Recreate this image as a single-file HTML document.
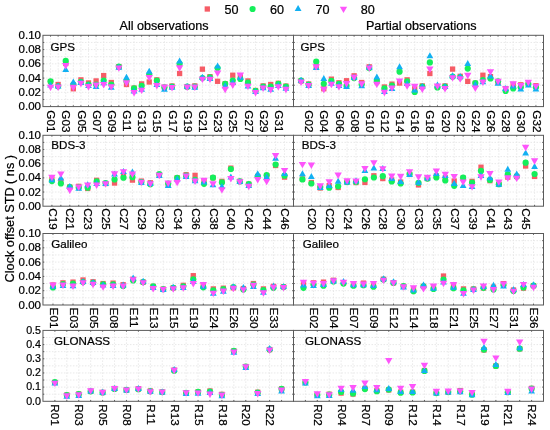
<!DOCTYPE html><html><head><meta charset="utf-8"><title>Clock offset STD</title>
<style>html,body{margin:0;padding:0;background:#fff;width:550px;height:430px;overflow:hidden}svg{display:block}text{font-family:'Liberation Sans', Arial, Helvetica, sans-serif;fill:#000;stroke:#000;stroke-width:0.22px}</style></head><body>
<svg width="550" height="430" viewBox="0 0 550 430">
<rect width="550" height="430" fill="#fff"/>
<path d="M50.54 35.30V106.60M58.13 35.30V106.60M65.73 35.30V106.60M73.32 35.30V106.60M80.91 35.30V106.60M88.50 35.30V106.60M96.10 35.30V106.60M103.69 35.30V106.60M111.28 35.30V106.60M118.87 35.30V106.60M126.47 35.30V106.60M134.06 35.30V106.60M141.65 35.30V106.60M149.24 35.30V106.60M156.84 35.30V106.60M164.43 35.30V106.60M172.02 35.30V106.60M179.61 35.30V106.60M187.21 35.30V106.60M194.80 35.30V106.60M202.39 35.30V106.60M209.98 35.30V106.60M217.58 35.30V106.60M225.17 35.30V106.60M232.76 35.30V106.60M240.35 35.30V106.60M247.95 35.30V106.60M255.54 35.30V106.60M263.13 35.30V106.60M270.72 35.30V106.60M278.32 35.30V106.60M285.91 35.30V106.60M42.95 42.43H293.50M42.95 49.56H293.50M42.95 56.69H293.50M42.95 63.82H293.50M42.95 70.95H293.50M42.95 78.08H293.50M42.95 85.21H293.50M42.95 92.34H293.50M42.95 99.47H293.50" stroke="#e6e6e6" stroke-width="0.9" stroke-dasharray="1.5 1.5" fill="none"/>
<path d="M50.54 35.30v1.3M50.54 106.60v-1.3M58.13 35.30v1.3M58.13 106.60v-1.3M65.73 35.30v1.3M65.73 106.60v-1.3M73.32 35.30v1.3M73.32 106.60v-1.3M80.91 35.30v1.3M80.91 106.60v-1.3M88.50 35.30v1.3M88.50 106.60v-1.3M96.10 35.30v1.3M96.10 106.60v-1.3M103.69 35.30v1.3M103.69 106.60v-1.3M111.28 35.30v1.3M111.28 106.60v-1.3M118.87 35.30v1.3M118.87 106.60v-1.3M126.47 35.30v1.3M126.47 106.60v-1.3M134.06 35.30v1.3M134.06 106.60v-1.3M141.65 35.30v1.3M141.65 106.60v-1.3M149.24 35.30v1.3M149.24 106.60v-1.3M156.84 35.30v1.3M156.84 106.60v-1.3M164.43 35.30v1.3M164.43 106.60v-1.3M172.02 35.30v1.3M172.02 106.60v-1.3M179.61 35.30v1.3M179.61 106.60v-1.3M187.21 35.30v1.3M187.21 106.60v-1.3M194.80 35.30v1.3M194.80 106.60v-1.3M202.39 35.30v1.3M202.39 106.60v-1.3M209.98 35.30v1.3M209.98 106.60v-1.3M217.58 35.30v1.3M217.58 106.60v-1.3M225.17 35.30v1.3M225.17 106.60v-1.3M232.76 35.30v1.3M232.76 106.60v-1.3M240.35 35.30v1.3M240.35 106.60v-1.3M247.95 35.30v1.3M247.95 106.60v-1.3M255.54 35.30v1.3M255.54 106.60v-1.3M263.13 35.30v1.3M263.13 106.60v-1.3M270.72 35.30v1.3M270.72 106.60v-1.3M278.32 35.30v1.3M278.32 106.60v-1.3M285.91 35.30v1.3M285.91 106.60v-1.3M42.95 42.43h1.3M293.50 42.43h-1.3M42.95 49.56h1.3M293.50 49.56h-1.3M42.95 56.69h1.3M293.50 56.69h-1.3M42.95 63.82h1.3M293.50 63.82h-1.3M42.95 70.95h1.3M293.50 70.95h-1.3M42.95 78.08h1.3M293.50 78.08h-1.3M42.95 85.21h1.3M293.50 85.21h-1.3M42.95 92.34h1.3M293.50 92.34h-1.3M42.95 99.47h1.3M293.50 99.47h-1.3" stroke="#5a5a5a" stroke-width="1" fill="none"/>
<rect x="42.95" y="35.30" width="250.55" height="71.30" fill="none" stroke="#5a5a5a" stroke-width="1"/>
<text x="50.45" y="50.60" font-size="11.6">GPS</text>
<text transform="translate(47.14 110.30) rotate(90)" font-size="11.7">G01</text>
<text transform="translate(62.33 110.30) rotate(90)" font-size="11.7">G03</text>
<text transform="translate(77.51 110.30) rotate(90)" font-size="11.7">G05</text>
<text transform="translate(92.70 110.30) rotate(90)" font-size="11.7">G07</text>
<text transform="translate(107.88 110.30) rotate(90)" font-size="11.7">G09</text>
<text transform="translate(123.07 110.30) rotate(90)" font-size="11.7">G11</text>
<text transform="translate(138.25 110.30) rotate(90)" font-size="11.7">G13</text>
<text transform="translate(153.44 110.30) rotate(90)" font-size="11.7">G15</text>
<text transform="translate(168.62 110.30) rotate(90)" font-size="11.7">G17</text>
<text transform="translate(183.81 110.30) rotate(90)" font-size="11.7">G19</text>
<text transform="translate(198.99 110.30) rotate(90)" font-size="11.7">G21</text>
<text transform="translate(214.18 110.30) rotate(90)" font-size="11.7">G23</text>
<text transform="translate(229.36 110.30) rotate(90)" font-size="11.7">G25</text>
<text transform="translate(244.55 110.30) rotate(90)" font-size="11.7">G27</text>
<text transform="translate(259.73 110.30) rotate(90)" font-size="11.7">G29</text>
<text transform="translate(274.92 110.30) rotate(90)" font-size="11.7">G31</text>
<text x="41" y="110.20" font-size="11.5" text-anchor="end">0.00</text>
<text x="41" y="95.94" font-size="11.5" text-anchor="end">0.02</text>
<text x="41" y="81.68" font-size="11.5" text-anchor="end">0.04</text>
<text x="41" y="67.42" font-size="11.5" text-anchor="end">0.06</text>
<text x="41" y="53.16" font-size="11.5" text-anchor="end">0.08</text>
<text x="41" y="38.90" font-size="11.5" text-anchor="end">0.10</text>
<rect x="47.89" y="78.99" width="5.30" height="5.30" fill="#f65c66"/>
<rect x="55.48" y="81.85" width="5.30" height="5.30" fill="#f65c66"/>
<rect x="63.08" y="60.81" width="5.30" height="5.30" fill="#f65c66"/>
<rect x="70.67" y="86.12" width="5.30" height="5.30" fill="#f65c66"/>
<rect x="78.26" y="77.21" width="5.30" height="5.30" fill="#f65c66"/>
<rect x="85.85" y="80.28" width="5.30" height="5.30" fill="#f65c66"/>
<rect x="93.45" y="78.28" width="5.30" height="5.30" fill="#f65c66"/>
<rect x="101.04" y="72.93" width="5.30" height="5.30" fill="#f65c66"/>
<rect x="108.63" y="79.85" width="5.30" height="5.30" fill="#f65c66"/>
<rect x="116.22" y="64.02" width="5.30" height="5.30" fill="#f65c66"/>
<rect x="123.82" y="81.85" width="5.30" height="5.30" fill="#f65c66"/>
<rect x="131.41" y="85.41" width="5.30" height="5.30" fill="#f65c66"/>
<rect x="139.00" y="81.28" width="5.30" height="5.30" fill="#f65c66"/>
<rect x="146.59" y="79.35" width="5.30" height="5.30" fill="#f65c66"/>
<rect x="154.19" y="77.21" width="5.30" height="5.30" fill="#f65c66"/>
<rect x="161.78" y="84.70" width="5.30" height="5.30" fill="#f65c66"/>
<rect x="169.37" y="83.34" width="5.30" height="5.30" fill="#f65c66"/>
<rect x="176.96" y="70.87" width="5.30" height="5.30" fill="#f65c66"/>
<rect x="184.56" y="83.99" width="5.30" height="5.30" fill="#f65c66"/>
<rect x="192.15" y="83.27" width="5.30" height="5.30" fill="#f65c66"/>
<rect x="199.74" y="66.52" width="5.30" height="5.30" fill="#f65c66"/>
<rect x="207.33" y="74.00" width="5.30" height="5.30" fill="#f65c66"/>
<rect x="214.93" y="78.64" width="5.30" height="5.30" fill="#f65c66"/>
<rect x="222.52" y="81.13" width="5.30" height="5.30" fill="#f65c66"/>
<rect x="230.11" y="72.58" width="5.30" height="5.30" fill="#f65c66"/>
<rect x="237.70" y="73.29" width="5.30" height="5.30" fill="#f65c66"/>
<rect x="245.30" y="78.28" width="5.30" height="5.30" fill="#f65c66"/>
<rect x="252.89" y="87.84" width="5.30" height="5.30" fill="#f65c66"/>
<rect x="260.48" y="83.27" width="5.30" height="5.30" fill="#f65c66"/>
<rect x="268.07" y="81.85" width="5.30" height="5.30" fill="#f65c66"/>
<rect x="275.67" y="80.63" width="5.30" height="5.30" fill="#f65c66"/>
<rect x="283.26" y="83.42" width="5.30" height="5.30" fill="#f65c66"/>
<circle cx="50.54" cy="81.29" r="3.1" fill="#14ef5a"/>
<circle cx="58.13" cy="86.28" r="3.1" fill="#14ef5a"/>
<circle cx="65.73" cy="60.97" r="3.1" fill="#14ef5a"/>
<circle cx="73.32" cy="84.50" r="3.1" fill="#14ef5a"/>
<circle cx="80.91" cy="81.79" r="3.1" fill="#14ef5a"/>
<circle cx="88.50" cy="84.50" r="3.1" fill="#14ef5a"/>
<circle cx="96.10" cy="84.50" r="3.1" fill="#14ef5a"/>
<circle cx="103.69" cy="80.50" r="3.1" fill="#14ef5a"/>
<circle cx="111.28" cy="84.50" r="3.1" fill="#14ef5a"/>
<circle cx="118.87" cy="66.67" r="3.1" fill="#14ef5a"/>
<circle cx="126.47" cy="80.93" r="3.1" fill="#14ef5a"/>
<circle cx="134.06" cy="88.42" r="3.1" fill="#14ef5a"/>
<circle cx="141.65" cy="85.78" r="3.1" fill="#14ef5a"/>
<circle cx="149.24" cy="74.52" r="3.1" fill="#14ef5a"/>
<circle cx="156.84" cy="80.50" r="3.1" fill="#14ef5a"/>
<circle cx="164.43" cy="87.35" r="3.1" fill="#14ef5a"/>
<circle cx="172.02" cy="86.64" r="3.1" fill="#14ef5a"/>
<circle cx="179.61" cy="63.82" r="3.1" fill="#14ef5a"/>
<circle cx="187.21" cy="86.64" r="3.1" fill="#14ef5a"/>
<circle cx="194.80" cy="86.64" r="3.1" fill="#14ef5a"/>
<circle cx="202.39" cy="78.08" r="3.1" fill="#14ef5a"/>
<circle cx="209.98" cy="77.37" r="3.1" fill="#14ef5a"/>
<circle cx="217.58" cy="68.10" r="3.1" fill="#14ef5a"/>
<circle cx="225.17" cy="83.78" r="3.1" fill="#14ef5a"/>
<circle cx="232.76" cy="80.50" r="3.1" fill="#14ef5a"/>
<circle cx="240.35" cy="79.01" r="3.1" fill="#14ef5a"/>
<circle cx="247.95" cy="82.71" r="3.1" fill="#14ef5a"/>
<circle cx="255.54" cy="90.91" r="3.1" fill="#14ef5a"/>
<circle cx="263.13" cy="86.64" r="3.1" fill="#14ef5a"/>
<circle cx="270.72" cy="86.64" r="3.1" fill="#14ef5a"/>
<circle cx="278.32" cy="83.78" r="3.1" fill="#14ef5a"/>
<circle cx="285.91" cy="86.64" r="3.1" fill="#14ef5a"/>
<path d="M50.54 81.50L53.94 87.50L47.14 87.50Z" fill="#12b0f2"/>
<path d="M58.13 82.50L61.53 88.50L54.73 88.50Z" fill="#12b0f2"/>
<path d="M65.73 66.02L69.13 72.02L62.33 72.02Z" fill="#12b0f2"/>
<path d="M73.32 78.50L76.72 84.50L69.92 84.50Z" fill="#12b0f2"/>
<path d="M80.91 79.00L84.31 85.00L77.51 85.00Z" fill="#12b0f2"/>
<path d="M88.50 82.00L91.90 88.00L85.10 88.00Z" fill="#12b0f2"/>
<path d="M96.10 82.92L99.50 88.92L92.70 88.92Z" fill="#12b0f2"/>
<path d="M103.69 79.36L107.09 85.36L100.29 85.36Z" fill="#12b0f2"/>
<path d="M111.28 83.64L114.68 89.64L107.88 89.64Z" fill="#12b0f2"/>
<path d="M118.87 63.67L122.27 69.67L115.47 69.67Z" fill="#12b0f2"/>
<path d="M126.47 73.65L129.87 79.65L123.07 79.65Z" fill="#12b0f2"/>
<path d="M134.06 87.49L137.46 93.49L130.66 93.49Z" fill="#12b0f2"/>
<path d="M141.65 85.77L145.05 91.77L138.25 91.77Z" fill="#12b0f2"/>
<path d="M149.24 67.74L152.64 73.74L145.84 73.74Z" fill="#12b0f2"/>
<path d="M156.84 81.00L160.24 87.00L153.44 87.00Z" fill="#12b0f2"/>
<path d="M164.43 85.77L167.83 91.77L161.03 91.77Z" fill="#12b0f2"/>
<path d="M172.02 83.64L175.42 89.64L168.62 89.64Z" fill="#12b0f2"/>
<path d="M179.61 57.61L183.01 63.61L176.21 63.61Z" fill="#12b0f2"/>
<path d="M187.21 82.92L190.61 88.92L183.81 88.92Z" fill="#12b0f2"/>
<path d="M194.80 83.64L198.20 89.64L191.40 89.64Z" fill="#12b0f2"/>
<path d="M202.39 73.80L205.79 79.80L198.99 79.80Z" fill="#12b0f2"/>
<path d="M209.98 75.08L213.38 81.08L206.58 81.08Z" fill="#12b0f2"/>
<path d="M217.58 62.60L220.98 68.60L214.18 68.60Z" fill="#12b0f2"/>
<path d="M225.17 82.21L228.57 88.21L221.77 88.21Z" fill="#12b0f2"/>
<path d="M232.76 79.00L236.16 85.00L229.36 85.00Z" fill="#12b0f2"/>
<path d="M240.35 73.65L243.75 79.65L236.95 79.65Z" fill="#12b0f2"/>
<path d="M247.95 82.50L251.35 88.50L244.55 88.50Z" fill="#12b0f2"/>
<path d="M255.54 87.91L258.94 93.91L252.14 93.91Z" fill="#12b0f2"/>
<path d="M263.13 84.35L266.53 90.35L259.73 90.35Z" fill="#12b0f2"/>
<path d="M270.72 85.77L274.12 91.77L267.32 91.77Z" fill="#12b0f2"/>
<path d="M278.32 81.92L281.72 87.92L274.92 87.92Z" fill="#12b0f2"/>
<path d="M285.91 84.71L289.31 90.71L282.51 90.71Z" fill="#12b0f2"/>
<path d="M46.84 84.72L54.24 84.72L50.54 91.12Z" fill="#fd55fb"/>
<path d="M54.43 84.51L61.83 84.51L58.13 90.91Z" fill="#fd55fb"/>
<path d="M62.03 63.04L69.43 63.04L65.73 69.44Z" fill="#fd55fb"/>
<path d="M69.62 84.86L77.02 84.86L73.32 91.26Z" fill="#fd55fb"/>
<path d="M77.21 80.73L84.61 80.73L80.91 87.13Z" fill="#fd55fb"/>
<path d="M84.80 84.01L92.20 84.01L88.50 90.41Z" fill="#fd55fb"/>
<path d="M92.40 82.58L99.80 82.58L96.10 88.98Z" fill="#fd55fb"/>
<path d="M99.99 82.01L107.39 82.01L103.69 88.41Z" fill="#fd55fb"/>
<path d="M107.58 84.15L114.98 84.15L111.28 90.55Z" fill="#fd55fb"/>
<path d="M115.17 65.40L122.57 65.40L118.87 71.80Z" fill="#fd55fb"/>
<path d="M122.77 80.37L130.17 80.37L126.47 86.77Z" fill="#fd55fb"/>
<path d="M130.36 90.00L137.76 90.00L134.06 96.40Z" fill="#fd55fb"/>
<path d="M137.95 87.71L145.35 87.71L141.65 94.11Z" fill="#fd55fb"/>
<path d="M145.54 74.88L152.94 74.88L149.24 81.28Z" fill="#fd55fb"/>
<path d="M153.14 83.08L160.54 83.08L156.84 89.48Z" fill="#fd55fb"/>
<path d="M160.73 84.51L168.13 84.51L164.43 90.91Z" fill="#fd55fb"/>
<path d="M168.32 85.08L175.72 85.08L172.02 91.48Z" fill="#fd55fb"/>
<path d="M175.91 65.33L183.31 65.33L179.61 71.73Z" fill="#fd55fb"/>
<path d="M183.51 84.51L190.91 84.51L187.21 90.91Z" fill="#fd55fb"/>
<path d="M191.10 84.51L198.50 84.51L194.80 90.91Z" fill="#fd55fb"/>
<path d="M198.69 76.66L206.09 76.66L202.39 83.06Z" fill="#fd55fb"/>
<path d="M206.28 76.66L213.68 76.66L209.98 83.06Z" fill="#fd55fb"/>
<path d="M213.88 70.60L221.28 70.60L217.58 77.00Z" fill="#fd55fb"/>
<path d="M221.47 86.79L228.87 86.79L225.17 93.19Z" fill="#fd55fb"/>
<path d="M229.06 82.51L236.46 82.51L232.76 88.91Z" fill="#fd55fb"/>
<path d="M236.65 72.53L244.05 72.53L240.35 78.93Z" fill="#fd55fb"/>
<path d="M244.25 83.72L251.65 83.72L247.95 90.12Z" fill="#fd55fb"/>
<path d="M251.84 90.00L259.24 90.00L255.54 96.40Z" fill="#fd55fb"/>
<path d="M259.43 85.57L266.83 85.57L263.13 91.97Z" fill="#fd55fb"/>
<path d="M267.02 87.00L274.42 87.00L270.72 93.40Z" fill="#fd55fb"/>
<path d="M274.62 84.15L282.02 84.15L278.32 90.55Z" fill="#fd55fb"/>
<path d="M282.21 86.79L289.61 86.79L285.91 93.19Z" fill="#fd55fb"/>
<path d="M301.08 35.30V106.60M308.65 35.30V106.60M316.23 35.30V106.60M323.80 35.30V106.60M331.38 35.30V106.60M338.95 35.30V106.60M346.53 35.30V106.60M354.11 35.30V106.60M361.68 35.30V106.60M369.26 35.30V106.60M376.83 35.30V106.60M384.41 35.30V106.60M391.98 35.30V106.60M399.56 35.30V106.60M407.14 35.30V106.60M414.71 35.30V106.60M422.29 35.30V106.60M429.86 35.30V106.60M437.44 35.30V106.60M445.02 35.30V106.60M452.59 35.30V106.60M460.17 35.30V106.60M467.74 35.30V106.60M475.32 35.30V106.60M482.89 35.30V106.60M490.47 35.30V106.60M498.05 35.30V106.60M505.62 35.30V106.60M513.20 35.30V106.60M520.77 35.30V106.60M528.35 35.30V106.60M535.92 35.30V106.60M293.50 42.43H543.50M293.50 49.56H543.50M293.50 56.69H543.50M293.50 63.82H543.50M293.50 70.95H543.50M293.50 78.08H543.50M293.50 85.21H543.50M293.50 92.34H543.50M293.50 99.47H543.50" stroke="#e6e6e6" stroke-width="0.9" stroke-dasharray="1.5 1.5" fill="none"/>
<path d="M301.08 35.30v1.3M301.08 106.60v-1.3M308.65 35.30v1.3M308.65 106.60v-1.3M316.23 35.30v1.3M316.23 106.60v-1.3M323.80 35.30v1.3M323.80 106.60v-1.3M331.38 35.30v1.3M331.38 106.60v-1.3M338.95 35.30v1.3M338.95 106.60v-1.3M346.53 35.30v1.3M346.53 106.60v-1.3M354.11 35.30v1.3M354.11 106.60v-1.3M361.68 35.30v1.3M361.68 106.60v-1.3M369.26 35.30v1.3M369.26 106.60v-1.3M376.83 35.30v1.3M376.83 106.60v-1.3M384.41 35.30v1.3M384.41 106.60v-1.3M391.98 35.30v1.3M391.98 106.60v-1.3M399.56 35.30v1.3M399.56 106.60v-1.3M407.14 35.30v1.3M407.14 106.60v-1.3M414.71 35.30v1.3M414.71 106.60v-1.3M422.29 35.30v1.3M422.29 106.60v-1.3M429.86 35.30v1.3M429.86 106.60v-1.3M437.44 35.30v1.3M437.44 106.60v-1.3M445.02 35.30v1.3M445.02 106.60v-1.3M452.59 35.30v1.3M452.59 106.60v-1.3M460.17 35.30v1.3M460.17 106.60v-1.3M467.74 35.30v1.3M467.74 106.60v-1.3M475.32 35.30v1.3M475.32 106.60v-1.3M482.89 35.30v1.3M482.89 106.60v-1.3M490.47 35.30v1.3M490.47 106.60v-1.3M498.05 35.30v1.3M498.05 106.60v-1.3M505.62 35.30v1.3M505.62 106.60v-1.3M513.20 35.30v1.3M513.20 106.60v-1.3M520.77 35.30v1.3M520.77 106.60v-1.3M528.35 35.30v1.3M528.35 106.60v-1.3M535.92 35.30v1.3M535.92 106.60v-1.3M293.50 42.43h1.3M543.50 42.43h-1.3M293.50 49.56h1.3M543.50 49.56h-1.3M293.50 56.69h1.3M543.50 56.69h-1.3M293.50 63.82h1.3M543.50 63.82h-1.3M293.50 70.95h1.3M543.50 70.95h-1.3M293.50 78.08h1.3M543.50 78.08h-1.3M293.50 85.21h1.3M543.50 85.21h-1.3M293.50 92.34h1.3M543.50 92.34h-1.3M293.50 99.47h1.3M543.50 99.47h-1.3" stroke="#5a5a5a" stroke-width="1" fill="none"/>
<rect x="293.50" y="35.30" width="250.00" height="71.30" fill="none" stroke="#5a5a5a" stroke-width="1"/>
<text x="300.60" y="50.60" font-size="11.6">GPS</text>
<text transform="translate(305.25 110.30) rotate(90)" font-size="11.7">G02</text>
<text transform="translate(320.40 110.30) rotate(90)" font-size="11.7">G04</text>
<text transform="translate(335.55 110.30) rotate(90)" font-size="11.7">G06</text>
<text transform="translate(350.71 110.30) rotate(90)" font-size="11.7">G08</text>
<text transform="translate(365.86 110.30) rotate(90)" font-size="11.7">G10</text>
<text transform="translate(381.01 110.30) rotate(90)" font-size="11.7">G12</text>
<text transform="translate(396.16 110.30) rotate(90)" font-size="11.7">G14</text>
<text transform="translate(411.31 110.30) rotate(90)" font-size="11.7">G16</text>
<text transform="translate(426.46 110.30) rotate(90)" font-size="11.7">G18</text>
<text transform="translate(441.62 110.30) rotate(90)" font-size="11.7">G20</text>
<text transform="translate(456.77 110.30) rotate(90)" font-size="11.7">G22</text>
<text transform="translate(471.92 110.30) rotate(90)" font-size="11.7">G24</text>
<text transform="translate(487.07 110.30) rotate(90)" font-size="11.7">G26</text>
<text transform="translate(502.22 110.30) rotate(90)" font-size="11.7">G28</text>
<text transform="translate(517.37 110.30) rotate(90)" font-size="11.7">G30</text>
<text transform="translate(532.52 110.30) rotate(90)" font-size="11.7">G32</text>
<rect x="298.43" y="78.28" width="5.30" height="5.30" fill="#f65c66"/>
<rect x="306.00" y="81.35" width="5.30" height="5.30" fill="#f65c66"/>
<rect x="313.58" y="64.02" width="5.30" height="5.30" fill="#f65c66"/>
<rect x="321.15" y="86.12" width="5.30" height="5.30" fill="#f65c66"/>
<rect x="328.73" y="76.50" width="5.30" height="5.30" fill="#f65c66"/>
<rect x="336.30" y="80.14" width="5.30" height="5.30" fill="#f65c66"/>
<rect x="343.88" y="78.07" width="5.30" height="5.30" fill="#f65c66"/>
<rect x="351.46" y="73.15" width="5.30" height="5.30" fill="#f65c66"/>
<rect x="359.03" y="79.85" width="5.30" height="5.30" fill="#f65c66"/>
<rect x="366.61" y="64.16" width="5.30" height="5.30" fill="#f65c66"/>
<rect x="374.18" y="78.99" width="5.30" height="5.30" fill="#f65c66"/>
<rect x="381.76" y="84.34" width="5.30" height="5.30" fill="#f65c66"/>
<rect x="389.33" y="81.49" width="5.30" height="5.30" fill="#f65c66"/>
<rect x="396.91" y="80.42" width="5.30" height="5.30" fill="#f65c66"/>
<rect x="404.49" y="77.21" width="5.30" height="5.30" fill="#f65c66"/>
<rect x="412.06" y="86.12" width="5.30" height="5.30" fill="#f65c66"/>
<rect x="419.64" y="83.27" width="5.30" height="5.30" fill="#f65c66"/>
<rect x="427.21" y="70.87" width="5.30" height="5.30" fill="#f65c66"/>
<rect x="434.79" y="83.99" width="5.30" height="5.30" fill="#f65c66"/>
<rect x="442.37" y="83.27" width="5.30" height="5.30" fill="#f65c66"/>
<rect x="449.94" y="66.45" width="5.30" height="5.30" fill="#f65c66"/>
<rect x="457.52" y="73.65" width="5.30" height="5.30" fill="#f65c66"/>
<rect x="465.09" y="78.71" width="5.30" height="5.30" fill="#f65c66"/>
<rect x="472.67" y="80.63" width="5.30" height="5.30" fill="#f65c66"/>
<rect x="480.24" y="72.58" width="5.30" height="5.30" fill="#f65c66"/>
<rect x="487.82" y="74.00" width="5.30" height="5.30" fill="#f65c66"/>
<rect x="495.40" y="79.71" width="5.30" height="5.30" fill="#f65c66"/>
<rect x="502.97" y="86.12" width="5.30" height="5.30" fill="#f65c66"/>
<rect x="510.55" y="81.85" width="5.30" height="5.30" fill="#f65c66"/>
<rect x="518.12" y="82.13" width="5.30" height="5.30" fill="#f65c66"/>
<rect x="525.70" y="80.14" width="5.30" height="5.30" fill="#f65c66"/>
<rect x="533.27" y="83.06" width="5.30" height="5.30" fill="#f65c66"/>
<circle cx="301.08" cy="80.50" r="3.1" fill="#14ef5a"/>
<circle cx="308.65" cy="84.50" r="3.1" fill="#14ef5a"/>
<circle cx="316.23" cy="61.68" r="3.1" fill="#14ef5a"/>
<circle cx="323.80" cy="83.78" r="3.1" fill="#14ef5a"/>
<circle cx="331.38" cy="80.93" r="3.1" fill="#14ef5a"/>
<circle cx="338.95" cy="83.78" r="3.1" fill="#14ef5a"/>
<circle cx="346.53" cy="85.92" r="3.1" fill="#14ef5a"/>
<circle cx="354.11" cy="78.08" r="3.1" fill="#14ef5a"/>
<circle cx="361.68" cy="84.50" r="3.1" fill="#14ef5a"/>
<circle cx="369.26" cy="68.10" r="3.1" fill="#14ef5a"/>
<circle cx="376.83" cy="80.93" r="3.1" fill="#14ef5a"/>
<circle cx="384.41" cy="88.42" r="3.1" fill="#14ef5a"/>
<circle cx="391.98" cy="85.57" r="3.1" fill="#14ef5a"/>
<circle cx="399.56" cy="71.66" r="3.1" fill="#14ef5a"/>
<circle cx="407.14" cy="81.36" r="3.1" fill="#14ef5a"/>
<circle cx="414.71" cy="91.98" r="3.1" fill="#14ef5a"/>
<circle cx="422.29" cy="86.64" r="3.1" fill="#14ef5a"/>
<circle cx="429.86" cy="62.39" r="3.1" fill="#14ef5a"/>
<circle cx="437.44" cy="87.49" r="3.1" fill="#14ef5a"/>
<circle cx="445.02" cy="86.64" r="3.1" fill="#14ef5a"/>
<circle cx="452.59" cy="76.65" r="3.1" fill="#14ef5a"/>
<circle cx="460.17" cy="77.37" r="3.1" fill="#14ef5a"/>
<circle cx="467.74" cy="68.60" r="3.1" fill="#14ef5a"/>
<circle cx="475.32" cy="83.07" r="3.1" fill="#14ef5a"/>
<circle cx="482.89" cy="80.01" r="3.1" fill="#14ef5a"/>
<circle cx="490.47" cy="78.51" r="3.1" fill="#14ef5a"/>
<circle cx="498.05" cy="81.29" r="3.1" fill="#14ef5a"/>
<circle cx="505.62" cy="90.91" r="3.1" fill="#14ef5a"/>
<circle cx="513.20" cy="88.49" r="3.1" fill="#14ef5a"/>
<circle cx="520.77" cy="87.35" r="3.1" fill="#14ef5a"/>
<circle cx="528.35" cy="84.00" r="3.1" fill="#14ef5a"/>
<circle cx="535.92" cy="87.35" r="3.1" fill="#14ef5a"/>
<path d="M301.08 76.79L304.48 82.79L297.68 82.79Z" fill="#12b0f2"/>
<path d="M308.65 82.00L312.05 88.00L305.25 88.00Z" fill="#12b0f2"/>
<path d="M316.23 64.03L319.63 70.03L312.83 70.03Z" fill="#12b0f2"/>
<path d="M323.80 74.94L327.20 80.94L320.40 80.94Z" fill="#12b0f2"/>
<path d="M331.38 79.71L334.78 85.71L327.98 85.71Z" fill="#12b0f2"/>
<path d="M338.95 82.00L342.35 88.00L335.55 88.00Z" fill="#12b0f2"/>
<path d="M346.53 82.92L349.93 88.92L343.13 88.92Z" fill="#12b0f2"/>
<path d="M354.11 73.65L357.51 79.65L350.71 79.65Z" fill="#12b0f2"/>
<path d="M361.68 82.21L365.08 88.21L358.28 88.21Z" fill="#12b0f2"/>
<path d="M369.26 63.67L372.66 69.67L365.86 69.67Z" fill="#12b0f2"/>
<path d="M376.83 73.51L380.23 79.51L373.43 79.51Z" fill="#12b0f2"/>
<path d="M384.41 87.91L387.81 93.91L381.01 93.91Z" fill="#12b0f2"/>
<path d="M391.98 85.06L395.38 91.06L388.58 91.06Z" fill="#12b0f2"/>
<path d="M399.56 63.32L402.96 69.32L396.16 69.32Z" fill="#12b0f2"/>
<path d="M407.14 80.07L410.54 86.07L403.74 86.07Z" fill="#12b0f2"/>
<path d="M414.71 86.49L418.11 92.49L411.31 92.49Z" fill="#12b0f2"/>
<path d="M422.29 82.92L425.69 88.92L418.89 88.92Z" fill="#12b0f2"/>
<path d="M429.86 52.26L433.26 58.26L426.46 58.26Z" fill="#12b0f2"/>
<path d="M437.44 81.50L440.84 87.50L434.04 87.50Z" fill="#12b0f2"/>
<path d="M445.02 82.92L448.42 88.92L441.62 88.92Z" fill="#12b0f2"/>
<path d="M452.59 72.37L455.99 78.37L449.19 78.37Z" fill="#12b0f2"/>
<path d="M460.17 72.94L463.57 78.94L456.77 78.94Z" fill="#12b0f2"/>
<path d="M467.74 59.96L471.14 65.96L464.34 65.96Z" fill="#12b0f2"/>
<path d="M475.32 81.00L478.72 87.00L471.92 87.00Z" fill="#12b0f2"/>
<path d="M482.89 78.29L486.29 84.29L479.49 84.29Z" fill="#12b0f2"/>
<path d="M490.47 72.58L493.87 78.58L487.07 78.58Z" fill="#12b0f2"/>
<path d="M498.05 79.71L501.45 85.71L494.65 85.71Z" fill="#12b0f2"/>
<path d="M505.62 85.06L509.02 91.06L502.22 91.06Z" fill="#12b0f2"/>
<path d="M513.20 82.57L516.60 88.57L509.80 88.57Z" fill="#12b0f2"/>
<path d="M520.77 85.49L524.17 91.49L517.37 91.49Z" fill="#12b0f2"/>
<path d="M528.35 81.50L531.75 87.50L524.95 87.50Z" fill="#12b0f2"/>
<path d="M535.92 85.49L539.32 91.49L532.52 91.49Z" fill="#12b0f2"/>
<path d="M297.38 79.59L304.78 79.59L301.08 85.99Z" fill="#fd55fb"/>
<path d="M304.95 83.01L312.35 83.01L308.65 89.41Z" fill="#fd55fb"/>
<path d="M312.53 64.18L319.93 64.18L316.23 70.58Z" fill="#fd55fb"/>
<path d="M320.10 86.79L327.50 86.79L323.80 93.19Z" fill="#fd55fb"/>
<path d="M327.68 81.80L335.08 81.80L331.38 88.20Z" fill="#fd55fb"/>
<path d="M335.25 84.15L342.65 84.15L338.95 90.55Z" fill="#fd55fb"/>
<path d="M342.83 81.08L350.23 81.08L346.53 87.48Z" fill="#fd55fb"/>
<path d="M350.41 74.74L357.81 74.74L354.11 81.14Z" fill="#fd55fb"/>
<path d="M357.98 81.30L365.38 81.30L361.68 87.70Z" fill="#fd55fb"/>
<path d="M365.56 65.40L372.96 65.40L369.26 71.80Z" fill="#fd55fb"/>
<path d="M373.13 81.72L380.53 81.72L376.83 88.12Z" fill="#fd55fb"/>
<path d="M380.71 89.85L388.11 89.85L384.41 96.25Z" fill="#fd55fb"/>
<path d="M388.28 85.43L395.68 85.43L391.98 91.83Z" fill="#fd55fb"/>
<path d="M395.86 78.44L403.26 78.44L399.56 84.84Z" fill="#fd55fb"/>
<path d="M403.44 83.44L410.84 83.44L407.14 89.84Z" fill="#fd55fb"/>
<path d="M411.01 83.79L418.41 83.79L414.71 90.19Z" fill="#fd55fb"/>
<path d="M418.59 86.57L425.99 86.57L422.29 92.97Z" fill="#fd55fb"/>
<path d="M426.16 66.61L433.56 66.61L429.86 73.01Z" fill="#fd55fb"/>
<path d="M433.74 83.58L441.14 83.58L437.44 89.98Z" fill="#fd55fb"/>
<path d="M441.32 86.00L448.72 86.00L445.02 92.40Z" fill="#fd55fb"/>
<path d="M448.89 75.17L456.29 75.17L452.59 81.57Z" fill="#fd55fb"/>
<path d="M456.47 76.31L463.87 76.31L460.17 82.71Z" fill="#fd55fb"/>
<path d="M464.04 72.74L471.44 72.74L467.74 79.14Z" fill="#fd55fb"/>
<path d="M471.62 85.57L479.02 85.57L475.32 91.97Z" fill="#fd55fb"/>
<path d="M479.19 79.59L486.59 79.59L482.89 85.99Z" fill="#fd55fb"/>
<path d="M486.77 69.18L494.17 69.18L490.47 75.58Z" fill="#fd55fb"/>
<path d="M494.35 78.80L501.75 78.80L498.05 85.20Z" fill="#fd55fb"/>
<path d="M501.92 86.29L509.32 86.29L505.62 92.69Z" fill="#fd55fb"/>
<path d="M509.50 81.30L516.90 81.30L513.20 87.70Z" fill="#fd55fb"/>
<path d="M517.07 83.08L524.47 83.08L520.77 89.48Z" fill="#fd55fb"/>
<path d="M524.65 79.87L532.05 79.87L528.35 86.27Z" fill="#fd55fb"/>
<path d="M532.22 83.72L539.62 83.72L535.92 90.12Z" fill="#fd55fb"/>
<path d="M51.90 135.30V206.20M60.85 135.30V206.20M69.79 135.30V206.20M78.74 135.30V206.20M87.69 135.30V206.20M96.64 135.30V206.20M105.59 135.30V206.20M114.54 135.30V206.20M123.48 135.30V206.20M132.43 135.30V206.20M141.38 135.30V206.20M150.33 135.30V206.20M159.28 135.30V206.20M168.23 135.30V206.20M177.17 135.30V206.20M186.12 135.30V206.20M195.07 135.30V206.20M204.02 135.30V206.20M212.97 135.30V206.20M221.91 135.30V206.20M230.86 135.30V206.20M239.81 135.30V206.20M248.76 135.30V206.20M257.71 135.30V206.20M266.66 135.30V206.20M275.60 135.30V206.20M284.55 135.30V206.20M42.95 142.39H293.50M42.95 149.48H293.50M42.95 156.57H293.50M42.95 163.66H293.50M42.95 170.75H293.50M42.95 177.84H293.50M42.95 184.93H293.50M42.95 192.02H293.50M42.95 199.11H293.50" stroke="#e6e6e6" stroke-width="0.9" stroke-dasharray="1.5 1.5" fill="none"/>
<path d="M51.90 135.30v1.3M51.90 206.20v-1.3M60.85 135.30v1.3M60.85 206.20v-1.3M69.79 135.30v1.3M69.79 206.20v-1.3M78.74 135.30v1.3M78.74 206.20v-1.3M87.69 135.30v1.3M87.69 206.20v-1.3M96.64 135.30v1.3M96.64 206.20v-1.3M105.59 135.30v1.3M105.59 206.20v-1.3M114.54 135.30v1.3M114.54 206.20v-1.3M123.48 135.30v1.3M123.48 206.20v-1.3M132.43 135.30v1.3M132.43 206.20v-1.3M141.38 135.30v1.3M141.38 206.20v-1.3M150.33 135.30v1.3M150.33 206.20v-1.3M159.28 135.30v1.3M159.28 206.20v-1.3M168.23 135.30v1.3M168.23 206.20v-1.3M177.17 135.30v1.3M177.17 206.20v-1.3M186.12 135.30v1.3M186.12 206.20v-1.3M195.07 135.30v1.3M195.07 206.20v-1.3M204.02 135.30v1.3M204.02 206.20v-1.3M212.97 135.30v1.3M212.97 206.20v-1.3M221.91 135.30v1.3M221.91 206.20v-1.3M230.86 135.30v1.3M230.86 206.20v-1.3M239.81 135.30v1.3M239.81 206.20v-1.3M248.76 135.30v1.3M248.76 206.20v-1.3M257.71 135.30v1.3M257.71 206.20v-1.3M266.66 135.30v1.3M266.66 206.20v-1.3M275.60 135.30v1.3M275.60 206.20v-1.3M284.55 135.30v1.3M284.55 206.20v-1.3M42.95 142.39h1.3M293.50 142.39h-1.3M42.95 149.48h1.3M293.50 149.48h-1.3M42.95 156.57h1.3M293.50 156.57h-1.3M42.95 163.66h1.3M293.50 163.66h-1.3M42.95 170.75h1.3M293.50 170.75h-1.3M42.95 177.84h1.3M293.50 177.84h-1.3M42.95 184.93h1.3M293.50 184.93h-1.3M42.95 192.02h1.3M293.50 192.02h-1.3M42.95 199.11h1.3M293.50 199.11h-1.3" stroke="#5a5a5a" stroke-width="1" fill="none"/>
<rect x="42.95" y="135.30" width="250.55" height="70.90" fill="none" stroke="#5a5a5a" stroke-width="1"/>
<text x="51.35" y="149.40" font-size="11.6">BDS-3</text>
<text transform="translate(48.50 208.20) rotate(90)" font-size="11.7">C19</text>
<text transform="translate(66.39 208.20) rotate(90)" font-size="11.7">C21</text>
<text transform="translate(84.29 208.20) rotate(90)" font-size="11.7">C23</text>
<text transform="translate(102.19 208.20) rotate(90)" font-size="11.7">C25</text>
<text transform="translate(120.08 208.20) rotate(90)" font-size="11.7">C27</text>
<text transform="translate(137.98 208.20) rotate(90)" font-size="11.7">C29</text>
<text transform="translate(155.88 208.20) rotate(90)" font-size="11.7">C32</text>
<text transform="translate(173.77 208.20) rotate(90)" font-size="11.7">C34</text>
<text transform="translate(191.67 208.20) rotate(90)" font-size="11.7">C36</text>
<text transform="translate(209.57 208.20) rotate(90)" font-size="11.7">C38</text>
<text transform="translate(227.46 208.20) rotate(90)" font-size="11.7">C40</text>
<text transform="translate(245.36 208.20) rotate(90)" font-size="11.7">C42</text>
<text transform="translate(263.26 208.20) rotate(90)" font-size="11.7">C44</text>
<text transform="translate(281.15 208.20) rotate(90)" font-size="11.7">C46</text>
<text x="41" y="209.80" font-size="11.5" text-anchor="end">0.00</text>
<text x="41" y="195.62" font-size="11.5" text-anchor="end">0.02</text>
<text x="41" y="181.44" font-size="11.5" text-anchor="end">0.04</text>
<text x="41" y="167.26" font-size="11.5" text-anchor="end">0.06</text>
<text x="41" y="153.08" font-size="11.5" text-anchor="end">0.08</text>
<text x="41" y="138.90" font-size="11.5" text-anchor="end">0.10</text>
<rect x="49.25" y="176.61" width="5.30" height="5.30" fill="#f65c66"/>
<rect x="58.20" y="178.38" width="5.30" height="5.30" fill="#f65c66"/>
<rect x="67.14" y="184.41" width="5.30" height="5.30" fill="#f65c66"/>
<rect x="76.09" y="183.70" width="5.30" height="5.30" fill="#f65c66"/>
<rect x="85.04" y="185.82" width="5.30" height="5.30" fill="#f65c66"/>
<rect x="93.99" y="177.67" width="5.30" height="5.30" fill="#f65c66"/>
<rect x="102.94" y="180.86" width="5.30" height="5.30" fill="#f65c66"/>
<rect x="111.89" y="180.37" width="5.30" height="5.30" fill="#f65c66"/>
<rect x="120.83" y="173.77" width="5.30" height="5.30" fill="#f65c66"/>
<rect x="129.78" y="177.46" width="5.30" height="5.30" fill="#f65c66"/>
<rect x="138.73" y="178.45" width="5.30" height="5.30" fill="#f65c66"/>
<rect x="147.68" y="180.15" width="5.30" height="5.30" fill="#f65c66"/>
<rect x="156.63" y="172.35" width="5.30" height="5.30" fill="#f65c66"/>
<rect x="165.58" y="181.57" width="5.30" height="5.30" fill="#f65c66"/>
<rect x="174.52" y="175.19" width="5.30" height="5.30" fill="#f65c66"/>
<rect x="183.47" y="172.07" width="5.30" height="5.30" fill="#f65c66"/>
<rect x="192.42" y="172.71" width="5.30" height="5.30" fill="#f65c66"/>
<rect x="201.37" y="178.73" width="5.30" height="5.30" fill="#f65c66"/>
<rect x="210.32" y="175.19" width="5.30" height="5.30" fill="#f65c66"/>
<rect x="219.26" y="178.73" width="5.30" height="5.30" fill="#f65c66"/>
<rect x="228.21" y="165.48" width="5.30" height="5.30" fill="#f65c66"/>
<rect x="237.16" y="178.73" width="5.30" height="5.30" fill="#f65c66"/>
<rect x="246.11" y="181.57" width="5.30" height="5.30" fill="#f65c66"/>
<rect x="255.06" y="173.77" width="5.30" height="5.30" fill="#f65c66"/>
<rect x="264.01" y="173.06" width="5.30" height="5.30" fill="#f65c66"/>
<rect x="272.95" y="162.85" width="5.30" height="5.30" fill="#f65c66"/>
<rect x="281.90" y="174.48" width="5.30" height="5.30" fill="#f65c66"/>
<circle cx="51.90" cy="181.03" r="3.1" fill="#14ef5a"/>
<circle cx="60.85" cy="183.51" r="3.1" fill="#14ef5a"/>
<circle cx="69.79" cy="187.06" r="3.1" fill="#14ef5a"/>
<circle cx="78.74" cy="187.41" r="3.1" fill="#14ef5a"/>
<circle cx="87.69" cy="187.77" r="3.1" fill="#14ef5a"/>
<circle cx="96.64" cy="181.38" r="3.1" fill="#14ef5a"/>
<circle cx="105.59" cy="183.02" r="3.1" fill="#14ef5a"/>
<circle cx="114.54" cy="179.40" r="3.1" fill="#14ef5a"/>
<circle cx="123.48" cy="177.70" r="3.1" fill="#14ef5a"/>
<circle cx="132.43" cy="177.13" r="3.1" fill="#14ef5a"/>
<circle cx="141.38" cy="182.09" r="3.1" fill="#14ef5a"/>
<circle cx="150.33" cy="184.22" r="3.1" fill="#14ef5a"/>
<circle cx="159.28" cy="174.01" r="3.1" fill="#14ef5a"/>
<circle cx="168.23" cy="183.51" r="3.1" fill="#14ef5a"/>
<circle cx="177.17" cy="177.84" r="3.1" fill="#14ef5a"/>
<circle cx="186.12" cy="175.71" r="3.1" fill="#14ef5a"/>
<circle cx="195.07" cy="179.97" r="3.1" fill="#14ef5a"/>
<circle cx="204.02" cy="183.80" r="3.1" fill="#14ef5a"/>
<circle cx="212.97" cy="177.70" r="3.1" fill="#14ef5a"/>
<circle cx="221.91" cy="182.38" r="3.1" fill="#14ef5a"/>
<circle cx="230.86" cy="168.98" r="3.1" fill="#14ef5a"/>
<circle cx="239.81" cy="181.38" r="3.1" fill="#14ef5a"/>
<circle cx="248.76" cy="184.22" r="3.1" fill="#14ef5a"/>
<circle cx="257.71" cy="176.42" r="3.1" fill="#14ef5a"/>
<circle cx="266.66" cy="175.22" r="3.1" fill="#14ef5a"/>
<circle cx="275.60" cy="164.58" r="3.1" fill="#14ef5a"/>
<circle cx="284.55" cy="175.71" r="3.1" fill="#14ef5a"/>
<path d="M51.90 176.26L55.30 182.26L48.50 182.26Z" fill="#12b0f2"/>
<path d="M60.85 174.49L64.25 180.49L57.45 180.49Z" fill="#12b0f2"/>
<path d="M69.79 182.99L73.19 188.99L66.39 188.99Z" fill="#12b0f2"/>
<path d="M78.74 184.77L82.14 190.77L75.34 190.77Z" fill="#12b0f2"/>
<path d="M87.69 181.22L91.09 187.22L84.29 187.22Z" fill="#12b0f2"/>
<path d="M96.64 180.02L100.04 186.02L93.24 186.02Z" fill="#12b0f2"/>
<path d="M105.59 180.02L108.99 186.02L102.19 186.02Z" fill="#12b0f2"/>
<path d="M114.54 170.59L117.94 176.59L111.14 176.59Z" fill="#12b0f2"/>
<path d="M123.48 168.10L126.88 174.10L120.08 174.10Z" fill="#12b0f2"/>
<path d="M132.43 168.46L135.83 174.46L129.03 174.46Z" fill="#12b0f2"/>
<path d="M141.38 179.09L144.78 185.09L137.98 185.09Z" fill="#12b0f2"/>
<path d="M150.33 180.02L153.73 186.02L146.93 186.02Z" fill="#12b0f2"/>
<path d="M159.28 171.93L162.68 177.93L155.88 177.93Z" fill="#12b0f2"/>
<path d="M168.23 181.93L171.63 187.93L164.83 187.93Z" fill="#12b0f2"/>
<path d="M177.17 175.55L180.57 181.55L173.77 181.55Z" fill="#12b0f2"/>
<path d="M186.12 173.00L189.52 179.00L182.72 179.00Z" fill="#12b0f2"/>
<path d="M195.07 177.32L198.47 183.32L191.67 183.32Z" fill="#12b0f2"/>
<path d="M204.02 178.38L207.42 184.38L200.62 184.38Z" fill="#12b0f2"/>
<path d="M212.97 181.22L216.37 187.22L209.57 187.22Z" fill="#12b0f2"/>
<path d="M221.91 182.99L225.31 188.99L218.51 188.99Z" fill="#12b0f2"/>
<path d="M230.86 173.42L234.26 179.42L227.46 179.42Z" fill="#12b0f2"/>
<path d="M239.81 178.03L243.21 184.03L236.41 184.03Z" fill="#12b0f2"/>
<path d="M248.76 181.93L252.16 187.93L245.36 187.93Z" fill="#12b0f2"/>
<path d="M257.71 170.30L261.11 176.30L254.31 176.30Z" fill="#12b0f2"/>
<path d="M266.66 173.42L270.06 179.42L263.26 179.42Z" fill="#12b0f2"/>
<path d="M275.60 154.63L279.00 160.63L272.20 160.63Z" fill="#12b0f2"/>
<path d="M284.55 169.88L287.95 175.88L281.15 175.88Z" fill="#12b0f2"/>
<path d="M48.20 174.78L55.60 174.78L51.90 181.18Z" fill="#fd55fb"/>
<path d="M57.15 171.45L64.55 171.45L60.85 177.85Z" fill="#fd55fb"/>
<path d="M66.09 187.54L73.49 187.54L69.79 193.94Z" fill="#fd55fb"/>
<path d="M75.04 184.57L82.44 184.57L78.74 190.97Z" fill="#fd55fb"/>
<path d="M83.99 182.44L91.39 182.44L87.69 188.84Z" fill="#fd55fb"/>
<path d="M92.94 182.58L100.34 182.58L96.64 188.98Z" fill="#fd55fb"/>
<path d="M101.89 181.16L109.29 181.16L105.59 187.56Z" fill="#fd55fb"/>
<path d="M110.84 171.31L118.24 171.31L114.54 177.71Z" fill="#fd55fb"/>
<path d="M119.78 169.18L127.18 169.18L123.48 175.58Z" fill="#fd55fb"/>
<path d="M128.73 171.59L136.13 171.59L132.43 177.99Z" fill="#fd55fb"/>
<path d="M137.68 179.67L145.08 179.67L141.38 186.07Z" fill="#fd55fb"/>
<path d="M146.63 181.16L154.03 181.16L150.33 187.56Z" fill="#fd55fb"/>
<path d="M155.58 172.73L162.98 172.73L159.28 179.13Z" fill="#fd55fb"/>
<path d="M164.53 180.60L171.93 180.60L168.23 187.00Z" fill="#fd55fb"/>
<path d="M173.47 179.96L180.87 179.96L177.17 186.36Z" fill="#fd55fb"/>
<path d="M182.42 173.58L189.82 173.58L186.12 179.98Z" fill="#fd55fb"/>
<path d="M191.37 178.54L198.77 178.54L195.07 184.94Z" fill="#fd55fb"/>
<path d="M200.32 177.69L207.72 177.69L204.02 184.09Z" fill="#fd55fb"/>
<path d="M209.27 181.30L216.67 181.30L212.97 187.70Z" fill="#fd55fb"/>
<path d="M218.21 187.19L225.61 187.19L221.91 193.59Z" fill="#fd55fb"/>
<path d="M227.16 176.06L234.56 176.06L230.86 182.46Z" fill="#fd55fb"/>
<path d="M236.11 179.18L243.51 179.18L239.81 185.58Z" fill="#fd55fb"/>
<path d="M245.06 183.86L252.46 183.86L248.76 190.26Z" fill="#fd55fb"/>
<path d="M254.01 176.98L261.41 176.98L257.71 183.38Z" fill="#fd55fb"/>
<path d="M262.96 178.89L270.36 178.89L266.66 185.29Z" fill="#fd55fb"/>
<path d="M271.90 153.09L279.30 153.09L275.60 159.49Z" fill="#fd55fb"/>
<path d="M280.85 167.90L288.25 167.90L284.55 174.30Z" fill="#fd55fb"/>
<path d="M302.43 135.30V206.20M311.36 135.30V206.20M320.29 135.30V206.20M329.21 135.30V206.20M338.14 135.30V206.20M347.07 135.30V206.20M356.00 135.30V206.20M364.93 135.30V206.20M373.86 135.30V206.20M382.79 135.30V206.20M391.71 135.30V206.20M400.64 135.30V206.20M409.57 135.30V206.20M418.50 135.30V206.20M427.43 135.30V206.20M436.36 135.30V206.20M445.29 135.30V206.20M454.21 135.30V206.20M463.14 135.30V206.20M472.07 135.30V206.20M481.00 135.30V206.20M489.93 135.30V206.20M498.86 135.30V206.20M507.79 135.30V206.20M516.71 135.30V206.20M525.64 135.30V206.20M534.57 135.30V206.20M293.50 142.39H543.50M293.50 149.48H543.50M293.50 156.57H543.50M293.50 163.66H543.50M293.50 170.75H543.50M293.50 177.84H543.50M293.50 184.93H543.50M293.50 192.02H543.50M293.50 199.11H543.50" stroke="#e6e6e6" stroke-width="0.9" stroke-dasharray="1.5 1.5" fill="none"/>
<path d="M302.43 135.30v1.3M302.43 206.20v-1.3M311.36 135.30v1.3M311.36 206.20v-1.3M320.29 135.30v1.3M320.29 206.20v-1.3M329.21 135.30v1.3M329.21 206.20v-1.3M338.14 135.30v1.3M338.14 206.20v-1.3M347.07 135.30v1.3M347.07 206.20v-1.3M356.00 135.30v1.3M356.00 206.20v-1.3M364.93 135.30v1.3M364.93 206.20v-1.3M373.86 135.30v1.3M373.86 206.20v-1.3M382.79 135.30v1.3M382.79 206.20v-1.3M391.71 135.30v1.3M391.71 206.20v-1.3M400.64 135.30v1.3M400.64 206.20v-1.3M409.57 135.30v1.3M409.57 206.20v-1.3M418.50 135.30v1.3M418.50 206.20v-1.3M427.43 135.30v1.3M427.43 206.20v-1.3M436.36 135.30v1.3M436.36 206.20v-1.3M445.29 135.30v1.3M445.29 206.20v-1.3M454.21 135.30v1.3M454.21 206.20v-1.3M463.14 135.30v1.3M463.14 206.20v-1.3M472.07 135.30v1.3M472.07 206.20v-1.3M481.00 135.30v1.3M481.00 206.20v-1.3M489.93 135.30v1.3M489.93 206.20v-1.3M498.86 135.30v1.3M498.86 206.20v-1.3M507.79 135.30v1.3M507.79 206.20v-1.3M516.71 135.30v1.3M516.71 206.20v-1.3M525.64 135.30v1.3M525.64 206.20v-1.3M534.57 135.30v1.3M534.57 206.20v-1.3M293.50 142.39h1.3M543.50 142.39h-1.3M293.50 149.48h1.3M543.50 149.48h-1.3M293.50 156.57h1.3M543.50 156.57h-1.3M293.50 163.66h1.3M543.50 163.66h-1.3M293.50 170.75h1.3M543.50 170.75h-1.3M293.50 177.84h1.3M543.50 177.84h-1.3M293.50 184.93h1.3M543.50 184.93h-1.3M293.50 192.02h1.3M543.50 192.02h-1.3M293.50 199.11h1.3M543.50 199.11h-1.3" stroke="#5a5a5a" stroke-width="1" fill="none"/>
<rect x="293.50" y="135.30" width="250.00" height="70.90" fill="none" stroke="#5a5a5a" stroke-width="1"/>
<text x="301.70" y="149.40" font-size="11.6">BDS-3</text>
<text transform="translate(307.96 208.20) rotate(90)" font-size="11.7">C20</text>
<text transform="translate(325.81 208.20) rotate(90)" font-size="11.7">C22</text>
<text transform="translate(343.67 208.20) rotate(90)" font-size="11.7">C24</text>
<text transform="translate(361.53 208.20) rotate(90)" font-size="11.7">C26</text>
<text transform="translate(379.39 208.20) rotate(90)" font-size="11.7">C28</text>
<text transform="translate(397.24 208.20) rotate(90)" font-size="11.7">C30</text>
<text transform="translate(415.10 208.20) rotate(90)" font-size="11.7">C33</text>
<text transform="translate(432.96 208.20) rotate(90)" font-size="11.7">C35</text>
<text transform="translate(450.81 208.20) rotate(90)" font-size="11.7">C37</text>
<text transform="translate(468.67 208.20) rotate(90)" font-size="11.7">C39</text>
<text transform="translate(486.53 208.20) rotate(90)" font-size="11.7">C41</text>
<text transform="translate(504.39 208.20) rotate(90)" font-size="11.7">C43</text>
<text transform="translate(522.24 208.20) rotate(90)" font-size="11.7">C45</text>
<rect x="299.78" y="176.32" width="5.30" height="5.30" fill="#f65c66"/>
<rect x="308.71" y="179.87" width="5.30" height="5.30" fill="#f65c66"/>
<rect x="317.64" y="185.33" width="5.30" height="5.30" fill="#f65c66"/>
<rect x="326.56" y="182.99" width="5.30" height="5.30" fill="#f65c66"/>
<rect x="335.49" y="184.83" width="5.30" height="5.30" fill="#f65c66"/>
<rect x="344.42" y="179.44" width="5.30" height="5.30" fill="#f65c66"/>
<rect x="353.35" y="179.87" width="5.30" height="5.30" fill="#f65c66"/>
<rect x="362.28" y="179.80" width="5.30" height="5.30" fill="#f65c66"/>
<rect x="371.21" y="173.13" width="5.30" height="5.30" fill="#f65c66"/>
<rect x="380.14" y="175.90" width="5.30" height="5.30" fill="#f65c66"/>
<rect x="389.06" y="177.32" width="5.30" height="5.30" fill="#f65c66"/>
<rect x="397.99" y="179.44" width="5.30" height="5.30" fill="#f65c66"/>
<rect x="406.92" y="171.65" width="5.30" height="5.30" fill="#f65c66"/>
<rect x="415.85" y="182.28" width="5.30" height="5.30" fill="#f65c66"/>
<rect x="424.78" y="175.90" width="5.30" height="5.30" fill="#f65c66"/>
<rect x="433.71" y="173.35" width="5.30" height="5.30" fill="#f65c66"/>
<rect x="442.64" y="175.19" width="5.30" height="5.30" fill="#f65c66"/>
<rect x="451.56" y="178.38" width="5.30" height="5.30" fill="#f65c66"/>
<rect x="460.49" y="175.47" width="5.30" height="5.30" fill="#f65c66"/>
<rect x="469.42" y="178.73" width="5.30" height="5.30" fill="#f65c66"/>
<rect x="478.35" y="164.56" width="5.30" height="5.30" fill="#f65c66"/>
<rect x="487.28" y="178.03" width="5.30" height="5.30" fill="#f65c66"/>
<rect x="496.21" y="181.57" width="5.30" height="5.30" fill="#f65c66"/>
<rect x="505.14" y="174.48" width="5.30" height="5.30" fill="#f65c66"/>
<rect x="514.06" y="173.77" width="5.30" height="5.30" fill="#f65c66"/>
<rect x="522.99" y="163.35" width="5.30" height="5.30" fill="#f65c66"/>
<rect x="531.92" y="173.77" width="5.30" height="5.30" fill="#f65c66"/>
<circle cx="302.43" cy="179.40" r="3.1" fill="#14ef5a"/>
<circle cx="311.36" cy="183.51" r="3.1" fill="#14ef5a"/>
<circle cx="320.29" cy="187.06" r="3.1" fill="#14ef5a"/>
<circle cx="329.21" cy="187.77" r="3.1" fill="#14ef5a"/>
<circle cx="338.14" cy="186.35" r="3.1" fill="#14ef5a"/>
<circle cx="347.07" cy="182.09" r="3.1" fill="#14ef5a"/>
<circle cx="356.00" cy="182.09" r="3.1" fill="#14ef5a"/>
<circle cx="364.93" cy="179.26" r="3.1" fill="#14ef5a"/>
<circle cx="373.86" cy="177.49" r="3.1" fill="#14ef5a"/>
<circle cx="382.79" cy="176.21" r="3.1" fill="#14ef5a"/>
<circle cx="391.71" cy="181.38" r="3.1" fill="#14ef5a"/>
<circle cx="400.64" cy="183.51" r="3.1" fill="#14ef5a"/>
<circle cx="409.57" cy="174.01" r="3.1" fill="#14ef5a"/>
<circle cx="418.50" cy="182.80" r="3.1" fill="#14ef5a"/>
<circle cx="427.43" cy="178.55" r="3.1" fill="#14ef5a"/>
<circle cx="436.36" cy="177.49" r="3.1" fill="#14ef5a"/>
<circle cx="445.29" cy="180.39" r="3.1" fill="#14ef5a"/>
<circle cx="454.21" cy="185.78" r="3.1" fill="#14ef5a"/>
<circle cx="463.14" cy="177.63" r="3.1" fill="#14ef5a"/>
<circle cx="472.07" cy="182.59" r="3.1" fill="#14ef5a"/>
<circle cx="481.00" cy="170.96" r="3.1" fill="#14ef5a"/>
<circle cx="489.93" cy="179.97" r="3.1" fill="#14ef5a"/>
<circle cx="498.86" cy="184.22" r="3.1" fill="#14ef5a"/>
<circle cx="507.79" cy="174.37" r="3.1" fill="#14ef5a"/>
<circle cx="516.71" cy="176.42" r="3.1" fill="#14ef5a"/>
<circle cx="525.64" cy="162.67" r="3.1" fill="#14ef5a"/>
<circle cx="534.57" cy="174.01" r="3.1" fill="#14ef5a"/>
<path d="M302.43 170.30L305.83 176.30L299.03 176.30Z" fill="#12b0f2"/>
<path d="M311.36 172.93L314.76 178.93L307.96 178.93Z" fill="#12b0f2"/>
<path d="M320.29 184.06L323.69 190.06L316.89 190.06Z" fill="#12b0f2"/>
<path d="M329.21 181.93L332.61 187.93L325.81 187.93Z" fill="#12b0f2"/>
<path d="M338.14 177.82L341.54 183.82L334.74 183.82Z" fill="#12b0f2"/>
<path d="M347.07 178.38L350.47 184.38L343.67 184.38Z" fill="#12b0f2"/>
<path d="M356.00 177.18L359.40 183.18L352.60 183.18Z" fill="#12b0f2"/>
<path d="M364.93 167.04L368.33 173.04L361.53 173.04Z" fill="#12b0f2"/>
<path d="M373.86 164.56L377.26 170.56L370.46 170.56Z" fill="#12b0f2"/>
<path d="M382.79 164.91L386.19 170.91L379.39 170.91Z" fill="#12b0f2"/>
<path d="M391.71 174.98L395.11 180.98L388.31 180.98Z" fill="#12b0f2"/>
<path d="M400.64 178.03L404.04 184.03L397.24 184.03Z" fill="#12b0f2"/>
<path d="M409.57 171.01L412.97 177.01L406.17 177.01Z" fill="#12b0f2"/>
<path d="M418.50 178.74L421.90 184.74L415.10 184.74Z" fill="#12b0f2"/>
<path d="M427.43 174.49L430.83 180.49L424.03 180.49Z" fill="#12b0f2"/>
<path d="M436.36 169.88L439.76 175.88L432.96 175.88Z" fill="#12b0f2"/>
<path d="M445.29 172.00L448.69 178.00L441.89 178.00Z" fill="#12b0f2"/>
<path d="M454.21 180.02L457.61 186.02L450.81 186.02Z" fill="#12b0f2"/>
<path d="M463.14 181.93L466.54 187.93L459.74 187.93Z" fill="#12b0f2"/>
<path d="M472.07 182.99L475.47 188.99L468.67 188.99Z" fill="#12b0f2"/>
<path d="M481.00 172.00L484.40 178.00L477.60 178.00Z" fill="#12b0f2"/>
<path d="M489.93 174.13L493.33 180.13L486.53 180.13Z" fill="#12b0f2"/>
<path d="M498.86 180.87L502.26 186.87L495.46 186.87Z" fill="#12b0f2"/>
<path d="M507.79 165.76L511.19 171.76L504.39 171.76Z" fill="#12b0f2"/>
<path d="M516.71 170.59L520.11 176.59L513.31 176.59Z" fill="#12b0f2"/>
<path d="M525.64 149.39L529.04 155.39L522.24 155.39Z" fill="#12b0f2"/>
<path d="M534.57 163.00L537.97 169.00L531.17 169.00Z" fill="#12b0f2"/>
<path d="M298.73 161.88L306.13 161.88L302.43 168.28Z" fill="#fd55fb"/>
<path d="M307.66 162.59L315.06 162.59L311.36 168.99Z" fill="#fd55fb"/>
<path d="M316.59 183.29L323.99 183.29L320.29 189.69Z" fill="#fd55fb"/>
<path d="M325.51 179.32L332.91 179.32L329.21 185.72Z" fill="#fd55fb"/>
<path d="M334.44 172.51L341.84 172.51L338.14 178.91Z" fill="#fd55fb"/>
<path d="M343.37 178.19L350.77 178.19L347.07 184.58Z" fill="#fd55fb"/>
<path d="M352.30 178.61L359.70 178.61L356.00 185.01Z" fill="#fd55fb"/>
<path d="M361.23 165.92L368.63 165.92L364.93 172.32Z" fill="#fd55fb"/>
<path d="M370.16 160.18L377.56 160.18L373.86 166.58Z" fill="#fd55fb"/>
<path d="M379.09 166.13L386.49 166.13L382.79 172.53Z" fill="#fd55fb"/>
<path d="M388.01 173.58L395.41 173.58L391.71 179.98Z" fill="#fd55fb"/>
<path d="M396.94 173.79L404.34 173.79L400.64 180.19Z" fill="#fd55fb"/>
<path d="M405.87 169.18L413.27 169.18L409.57 175.58Z" fill="#fd55fb"/>
<path d="M414.80 174.29L422.20 174.29L418.50 180.69Z" fill="#fd55fb"/>
<path d="M423.73 174.78L431.13 174.78L427.43 181.18Z" fill="#fd55fb"/>
<path d="M432.66 168.54L440.06 168.54L436.36 174.94Z" fill="#fd55fb"/>
<path d="M441.59 171.80L448.99 171.80L445.29 178.20Z" fill="#fd55fb"/>
<path d="M450.51 173.93L457.91 173.93L454.21 180.33Z" fill="#fd55fb"/>
<path d="M459.44 179.39L466.84 179.39L463.14 185.79Z" fill="#fd55fb"/>
<path d="M468.37 184.21L475.77 184.21L472.07 190.61Z" fill="#fd55fb"/>
<path d="M477.30 174.29L484.70 174.29L481.00 180.69Z" fill="#fd55fb"/>
<path d="M486.23 171.10L493.63 171.10L489.93 177.50Z" fill="#fd55fb"/>
<path d="M495.16 179.39L502.56 179.39L498.86 185.79Z" fill="#fd55fb"/>
<path d="M504.09 175.35L511.49 175.35L507.79 181.75Z" fill="#fd55fb"/>
<path d="M513.01 175.70L520.41 175.70L516.71 182.10Z" fill="#fd55fb"/>
<path d="M521.94 144.86L529.34 144.86L525.64 151.26Z" fill="#fd55fb"/>
<path d="M530.87 158.33L538.27 158.33L534.57 164.73Z" fill="#fd55fb"/>
<path d="M52.97 233.50V305.00M62.99 233.50V305.00M73.02 233.50V305.00M83.04 233.50V305.00M93.06 233.50V305.00M103.08 233.50V305.00M113.10 233.50V305.00M123.13 233.50V305.00M133.15 233.50V305.00M143.17 233.50V305.00M153.19 233.50V305.00M163.21 233.50V305.00M173.24 233.50V305.00M183.26 233.50V305.00M193.28 233.50V305.00M203.30 233.50V305.00M213.32 233.50V305.00M223.35 233.50V305.00M233.37 233.50V305.00M243.39 233.50V305.00M253.41 233.50V305.00M263.43 233.50V305.00M273.46 233.50V305.00M283.48 233.50V305.00M42.95 240.65H293.50M42.95 247.80H293.50M42.95 254.95H293.50M42.95 262.10H293.50M42.95 269.25H293.50M42.95 276.40H293.50M42.95 283.55H293.50M42.95 290.70H293.50M42.95 297.85H293.50" stroke="#e6e6e6" stroke-width="0.9" stroke-dasharray="1.5 1.5" fill="none"/>
<path d="M52.97 233.50v1.3M52.97 305.00v-1.3M62.99 233.50v1.3M62.99 305.00v-1.3M73.02 233.50v1.3M73.02 305.00v-1.3M83.04 233.50v1.3M83.04 305.00v-1.3M93.06 233.50v1.3M93.06 305.00v-1.3M103.08 233.50v1.3M103.08 305.00v-1.3M113.10 233.50v1.3M113.10 305.00v-1.3M123.13 233.50v1.3M123.13 305.00v-1.3M133.15 233.50v1.3M133.15 305.00v-1.3M143.17 233.50v1.3M143.17 305.00v-1.3M153.19 233.50v1.3M153.19 305.00v-1.3M163.21 233.50v1.3M163.21 305.00v-1.3M173.24 233.50v1.3M173.24 305.00v-1.3M183.26 233.50v1.3M183.26 305.00v-1.3M193.28 233.50v1.3M193.28 305.00v-1.3M203.30 233.50v1.3M203.30 305.00v-1.3M213.32 233.50v1.3M213.32 305.00v-1.3M223.35 233.50v1.3M223.35 305.00v-1.3M233.37 233.50v1.3M233.37 305.00v-1.3M243.39 233.50v1.3M243.39 305.00v-1.3M253.41 233.50v1.3M253.41 305.00v-1.3M263.43 233.50v1.3M263.43 305.00v-1.3M273.46 233.50v1.3M273.46 305.00v-1.3M283.48 233.50v1.3M283.48 305.00v-1.3M42.95 240.65h1.3M293.50 240.65h-1.3M42.95 247.80h1.3M293.50 247.80h-1.3M42.95 254.95h1.3M293.50 254.95h-1.3M42.95 262.10h1.3M293.50 262.10h-1.3M42.95 269.25h1.3M293.50 269.25h-1.3M42.95 276.40h1.3M293.50 276.40h-1.3M42.95 283.55h1.3M293.50 283.55h-1.3M42.95 290.70h1.3M293.50 290.70h-1.3M42.95 297.85h1.3M293.50 297.85h-1.3" stroke="#5a5a5a" stroke-width="1" fill="none"/>
<rect x="42.95" y="233.50" width="250.55" height="71.50" fill="none" stroke="#5a5a5a" stroke-width="1"/>
<text x="51.25" y="247.90" font-size="11.6">Galileo</text>
<text transform="translate(49.57 307.60) rotate(90)" font-size="11.7">E01</text>
<text transform="translate(69.62 307.60) rotate(90)" font-size="11.7">E03</text>
<text transform="translate(89.66 307.60) rotate(90)" font-size="11.7">E05</text>
<text transform="translate(109.70 307.60) rotate(90)" font-size="11.7">E08</text>
<text transform="translate(129.75 307.60) rotate(90)" font-size="11.7">E11</text>
<text transform="translate(149.79 307.60) rotate(90)" font-size="11.7">E13</text>
<text transform="translate(169.84 307.60) rotate(90)" font-size="11.7">E15</text>
<text transform="translate(189.88 307.60) rotate(90)" font-size="11.7">E19</text>
<text transform="translate(209.92 307.60) rotate(90)" font-size="11.7">E24</text>
<text transform="translate(229.97 307.60) rotate(90)" font-size="11.7">E26</text>
<text transform="translate(250.01 307.60) rotate(90)" font-size="11.7">E30</text>
<text transform="translate(270.06 307.60) rotate(90)" font-size="11.7">E33</text>
<text x="41" y="308.60" font-size="11.5" text-anchor="end">0.00</text>
<text x="41" y="294.30" font-size="11.5" text-anchor="end">0.02</text>
<text x="41" y="280.00" font-size="11.5" text-anchor="end">0.04</text>
<text x="41" y="265.70" font-size="11.5" text-anchor="end">0.06</text>
<text x="41" y="251.40" font-size="11.5" text-anchor="end">0.08</text>
<text x="41" y="237.10" font-size="11.5" text-anchor="end">0.10</text>
<rect x="50.32" y="282.33" width="5.30" height="5.30" fill="#f65c66"/>
<rect x="60.34" y="280.19" width="5.30" height="5.30" fill="#f65c66"/>
<rect x="70.37" y="279.47" width="5.30" height="5.30" fill="#f65c66"/>
<rect x="80.39" y="277.33" width="5.30" height="5.30" fill="#f65c66"/>
<rect x="90.41" y="279.11" width="5.30" height="5.30" fill="#f65c66"/>
<rect x="100.43" y="280.90" width="5.30" height="5.30" fill="#f65c66"/>
<rect x="110.45" y="280.47" width="5.30" height="5.30" fill="#f65c66"/>
<rect x="120.48" y="282.04" width="5.30" height="5.30" fill="#f65c66"/>
<rect x="130.50" y="276.61" width="5.30" height="5.30" fill="#f65c66"/>
<rect x="140.52" y="279.47" width="5.30" height="5.30" fill="#f65c66"/>
<rect x="150.54" y="283.76" width="5.30" height="5.30" fill="#f65c66"/>
<rect x="160.56" y="286.41" width="5.30" height="5.30" fill="#f65c66"/>
<rect x="170.59" y="285.19" width="5.30" height="5.30" fill="#f65c66"/>
<rect x="180.61" y="282.69" width="5.30" height="5.30" fill="#f65c66"/>
<rect x="190.63" y="273.04" width="5.30" height="5.30" fill="#f65c66"/>
<rect x="200.65" y="283.05" width="5.30" height="5.30" fill="#f65c66"/>
<rect x="210.67" y="286.26" width="5.30" height="5.30" fill="#f65c66"/>
<rect x="220.70" y="285.55" width="5.30" height="5.30" fill="#f65c66"/>
<rect x="230.72" y="285.19" width="5.30" height="5.30" fill="#f65c66"/>
<rect x="240.74" y="285.91" width="5.30" height="5.30" fill="#f65c66"/>
<rect x="250.76" y="280.90" width="5.30" height="5.30" fill="#f65c66"/>
<rect x="260.78" y="286.26" width="5.30" height="5.30" fill="#f65c66"/>
<rect x="270.81" y="283.76" width="5.30" height="5.30" fill="#f65c66"/>
<rect x="280.83" y="284.12" width="5.30" height="5.30" fill="#f65c66"/>
<circle cx="52.97" cy="287.48" r="3.1" fill="#14ef5a"/>
<circle cx="62.99" cy="283.98" r="3.1" fill="#14ef5a"/>
<circle cx="73.02" cy="283.55" r="3.1" fill="#14ef5a"/>
<circle cx="83.04" cy="282.12" r="3.1" fill="#14ef5a"/>
<circle cx="93.06" cy="282.83" r="3.1" fill="#14ef5a"/>
<circle cx="103.08" cy="284.26" r="3.1" fill="#14ef5a"/>
<circle cx="113.10" cy="284.26" r="3.1" fill="#14ef5a"/>
<circle cx="123.13" cy="285.98" r="3.1" fill="#14ef5a"/>
<circle cx="133.15" cy="280.48" r="3.1" fill="#14ef5a"/>
<circle cx="143.17" cy="282.12" r="3.1" fill="#14ef5a"/>
<circle cx="153.19" cy="286.41" r="3.1" fill="#14ef5a"/>
<circle cx="163.21" cy="289.27" r="3.1" fill="#14ef5a"/>
<circle cx="173.24" cy="287.84" r="3.1" fill="#14ef5a"/>
<circle cx="183.26" cy="286.41" r="3.1" fill="#14ef5a"/>
<circle cx="193.28" cy="279.26" r="3.1" fill="#14ef5a"/>
<circle cx="203.30" cy="287.34" r="3.1" fill="#14ef5a"/>
<circle cx="213.32" cy="290.34" r="3.1" fill="#14ef5a"/>
<circle cx="223.35" cy="289.13" r="3.1" fill="#14ef5a"/>
<circle cx="233.37" cy="287.12" r="3.1" fill="#14ef5a"/>
<circle cx="243.39" cy="289.48" r="3.1" fill="#14ef5a"/>
<circle cx="253.41" cy="284.62" r="3.1" fill="#14ef5a"/>
<circle cx="263.43" cy="289.99" r="3.1" fill="#14ef5a"/>
<circle cx="273.46" cy="287.84" r="3.1" fill="#14ef5a"/>
<circle cx="283.48" cy="287.12" r="3.1" fill="#14ef5a"/>
<path d="M52.97 282.69L56.37 288.69L49.57 288.69Z" fill="#12b0f2"/>
<path d="M62.99 281.98L66.39 287.98L59.59 287.98Z" fill="#12b0f2"/>
<path d="M73.02 282.27L76.42 288.27L69.62 288.27Z" fill="#12b0f2"/>
<path d="M83.04 277.98L86.44 283.98L79.64 283.98Z" fill="#12b0f2"/>
<path d="M93.06 279.12L96.46 285.12L89.66 285.12Z" fill="#12b0f2"/>
<path d="M103.08 281.48L106.48 287.48L99.68 287.48Z" fill="#12b0f2"/>
<path d="M113.10 281.98L116.50 287.98L109.70 287.98Z" fill="#12b0f2"/>
<path d="M123.13 281.48L126.53 287.48L119.73 287.48Z" fill="#12b0f2"/>
<path d="M133.15 274.47L136.55 280.47L129.75 280.47Z" fill="#12b0f2"/>
<path d="M143.17 277.83L146.57 283.83L139.77 283.83Z" fill="#12b0f2"/>
<path d="M153.19 284.12L156.59 290.12L149.79 290.12Z" fill="#12b0f2"/>
<path d="M163.21 285.91L166.61 291.91L159.81 291.91Z" fill="#12b0f2"/>
<path d="M173.24 283.77L176.64 289.77L169.84 289.77Z" fill="#12b0f2"/>
<path d="M183.26 284.12L186.66 290.12L179.86 290.12Z" fill="#12b0f2"/>
<path d="M193.28 277.98L196.68 283.98L189.88 283.98Z" fill="#12b0f2"/>
<path d="M203.30 282.69L206.70 288.69L199.90 288.69Z" fill="#12b0f2"/>
<path d="M213.32 289.70L216.72 295.70L209.92 295.70Z" fill="#12b0f2"/>
<path d="M223.35 287.77L226.75 293.77L219.95 293.77Z" fill="#12b0f2"/>
<path d="M233.37 283.20L236.77 289.20L229.97 289.20Z" fill="#12b0f2"/>
<path d="M243.39 284.12L246.79 290.12L239.99 290.12Z" fill="#12b0f2"/>
<path d="M253.41 283.05L256.81 289.05L250.01 289.05Z" fill="#12b0f2"/>
<path d="M263.43 288.70L266.83 294.70L260.03 294.70Z" fill="#12b0f2"/>
<path d="M273.46 282.48L276.86 288.48L270.06 288.48Z" fill="#12b0f2"/>
<path d="M283.48 282.98L286.88 288.98L280.08 288.98Z" fill="#12b0f2"/>
<path d="M49.27 282.50L56.67 282.50L52.97 288.89Z" fill="#fd55fb"/>
<path d="M59.29 282.50L66.69 282.50L62.99 288.89Z" fill="#fd55fb"/>
<path d="M69.32 283.57L76.72 283.57L73.02 289.97Z" fill="#fd55fb"/>
<path d="M79.34 280.35L86.74 280.35L83.04 286.75Z" fill="#fd55fb"/>
<path d="M89.36 281.78L96.76 281.78L93.06 288.18Z" fill="#fd55fb"/>
<path d="M99.38 284.43L106.78 284.43L103.08 290.83Z" fill="#fd55fb"/>
<path d="M109.40 283.57L116.80 283.57L113.10 289.97Z" fill="#fd55fb"/>
<path d="M119.43 283.57L126.83 283.57L123.13 289.97Z" fill="#fd55fb"/>
<path d="M129.45 277.13L136.85 277.13L133.15 283.53Z" fill="#fd55fb"/>
<path d="M139.47 280.14L146.87 280.14L143.17 286.54Z" fill="#fd55fb"/>
<path d="M149.49 286.07L156.89 286.07L153.19 292.47Z" fill="#fd55fb"/>
<path d="M159.51 286.93L166.91 286.93L163.21 293.33Z" fill="#fd55fb"/>
<path d="M169.54 286.36L176.94 286.36L173.24 292.76Z" fill="#fd55fb"/>
<path d="M179.56 285.36L186.96 285.36L183.26 291.75Z" fill="#fd55fb"/>
<path d="M189.58 281.06L196.98 281.06L193.28 287.46Z" fill="#fd55fb"/>
<path d="M199.60 281.99L207.00 281.99L203.30 288.39Z" fill="#fd55fb"/>
<path d="M209.62 290.72L217.02 290.72L213.32 297.12Z" fill="#fd55fb"/>
<path d="M219.65 288.50L227.05 288.50L223.35 294.90Z" fill="#fd55fb"/>
<path d="M229.67 285.78L237.07 285.78L233.37 292.18Z" fill="#fd55fb"/>
<path d="M239.69 287.14L247.09 287.14L243.39 293.54Z" fill="#fd55fb"/>
<path d="M249.71 282.78L257.11 282.78L253.41 289.18Z" fill="#fd55fb"/>
<path d="M259.73 290.36L267.13 290.36L263.43 296.76Z" fill="#fd55fb"/>
<path d="M269.76 284.78L277.16 284.78L273.46 291.18Z" fill="#fd55fb"/>
<path d="M279.78 285.00L287.18 285.00L283.48 291.40Z" fill="#fd55fb"/>
<path d="M303.50 233.50V305.00M313.50 233.50V305.00M323.50 233.50V305.00M333.50 233.50V305.00M343.50 233.50V305.00M353.50 233.50V305.00M363.50 233.50V305.00M373.50 233.50V305.00M383.50 233.50V305.00M393.50 233.50V305.00M403.50 233.50V305.00M413.50 233.50V305.00M423.50 233.50V305.00M433.50 233.50V305.00M443.50 233.50V305.00M453.50 233.50V305.00M463.50 233.50V305.00M473.50 233.50V305.00M483.50 233.50V305.00M493.50 233.50V305.00M503.50 233.50V305.00M513.50 233.50V305.00M523.50 233.50V305.00M533.50 233.50V305.00M293.50 240.65H543.50M293.50 247.80H543.50M293.50 254.95H543.50M293.50 262.10H543.50M293.50 269.25H543.50M293.50 276.40H543.50M293.50 283.55H543.50M293.50 290.70H543.50M293.50 297.85H543.50" stroke="#e6e6e6" stroke-width="0.9" stroke-dasharray="1.5 1.5" fill="none"/>
<path d="M303.50 233.50v1.3M303.50 305.00v-1.3M313.50 233.50v1.3M313.50 305.00v-1.3M323.50 233.50v1.3M323.50 305.00v-1.3M333.50 233.50v1.3M333.50 305.00v-1.3M343.50 233.50v1.3M343.50 305.00v-1.3M353.50 233.50v1.3M353.50 305.00v-1.3M363.50 233.50v1.3M363.50 305.00v-1.3M373.50 233.50v1.3M373.50 305.00v-1.3M383.50 233.50v1.3M383.50 305.00v-1.3M393.50 233.50v1.3M393.50 305.00v-1.3M403.50 233.50v1.3M403.50 305.00v-1.3M413.50 233.50v1.3M413.50 305.00v-1.3M423.50 233.50v1.3M423.50 305.00v-1.3M433.50 233.50v1.3M433.50 305.00v-1.3M443.50 233.50v1.3M443.50 305.00v-1.3M453.50 233.50v1.3M453.50 305.00v-1.3M463.50 233.50v1.3M463.50 305.00v-1.3M473.50 233.50v1.3M473.50 305.00v-1.3M483.50 233.50v1.3M483.50 305.00v-1.3M493.50 233.50v1.3M493.50 305.00v-1.3M503.50 233.50v1.3M503.50 305.00v-1.3M513.50 233.50v1.3M513.50 305.00v-1.3M523.50 233.50v1.3M523.50 305.00v-1.3M533.50 233.50v1.3M533.50 305.00v-1.3M293.50 240.65h1.3M543.50 240.65h-1.3M293.50 247.80h1.3M543.50 247.80h-1.3M293.50 254.95h1.3M543.50 254.95h-1.3M293.50 262.10h1.3M543.50 262.10h-1.3M293.50 269.25h1.3M543.50 269.25h-1.3M293.50 276.40h1.3M543.50 276.40h-1.3M293.50 283.55h1.3M543.50 283.55h-1.3M293.50 290.70h1.3M543.50 290.70h-1.3M293.50 297.85h1.3M543.50 297.85h-1.3" stroke="#5a5a5a" stroke-width="1" fill="none"/>
<rect x="293.50" y="233.50" width="250.00" height="71.50" fill="none" stroke="#5a5a5a" stroke-width="1"/>
<text x="302.80" y="247.90" font-size="11.6">Galileo</text>
<text transform="translate(310.10 307.60) rotate(90)" font-size="11.7">E02</text>
<text transform="translate(330.10 307.60) rotate(90)" font-size="11.7">E04</text>
<text transform="translate(350.10 307.60) rotate(90)" font-size="11.7">E07</text>
<text transform="translate(370.10 307.60) rotate(90)" font-size="11.7">E09</text>
<text transform="translate(390.10 307.60) rotate(90)" font-size="11.7">E12</text>
<text transform="translate(410.10 307.60) rotate(90)" font-size="11.7">E14</text>
<text transform="translate(430.10 307.60) rotate(90)" font-size="11.7">E18</text>
<text transform="translate(450.10 307.60) rotate(90)" font-size="11.7">E21</text>
<text transform="translate(470.10 307.60) rotate(90)" font-size="11.7">E25</text>
<text transform="translate(490.10 307.60) rotate(90)" font-size="11.7">E27</text>
<text transform="translate(510.10 307.60) rotate(90)" font-size="11.7">E31</text>
<text transform="translate(530.10 307.60) rotate(90)" font-size="11.7">E36</text>
<rect x="300.85" y="280.90" width="5.30" height="5.30" fill="#f65c66"/>
<rect x="310.85" y="280.19" width="5.30" height="5.30" fill="#f65c66"/>
<rect x="320.85" y="279.47" width="5.30" height="5.30" fill="#f65c66"/>
<rect x="330.85" y="277.61" width="5.30" height="5.30" fill="#f65c66"/>
<rect x="340.85" y="280.19" width="5.30" height="5.30" fill="#f65c66"/>
<rect x="350.85" y="281.62" width="5.30" height="5.30" fill="#f65c66"/>
<rect x="360.85" y="280.47" width="5.30" height="5.30" fill="#f65c66"/>
<rect x="370.85" y="282.33" width="5.30" height="5.30" fill="#f65c66"/>
<rect x="380.85" y="276.61" width="5.30" height="5.30" fill="#f65c66"/>
<rect x="390.85" y="280.19" width="5.30" height="5.30" fill="#f65c66"/>
<rect x="400.85" y="283.76" width="5.30" height="5.30" fill="#f65c66"/>
<rect x="410.85" y="286.62" width="5.30" height="5.30" fill="#f65c66"/>
<rect x="420.85" y="283.76" width="5.30" height="5.30" fill="#f65c66"/>
<rect x="430.85" y="284.48" width="5.30" height="5.30" fill="#f65c66"/>
<rect x="440.85" y="273.39" width="5.30" height="5.30" fill="#f65c66"/>
<rect x="450.85" y="283.05" width="5.30" height="5.30" fill="#f65c66"/>
<rect x="460.85" y="286.26" width="5.30" height="5.30" fill="#f65c66"/>
<rect x="470.85" y="286.33" width="5.30" height="5.30" fill="#f65c66"/>
<rect x="480.85" y="285.33" width="5.30" height="5.30" fill="#f65c66"/>
<rect x="490.85" y="284.48" width="5.30" height="5.30" fill="#f65c66"/>
<rect x="500.85" y="280.97" width="5.30" height="5.30" fill="#f65c66"/>
<rect x="510.85" y="287.34" width="5.30" height="5.30" fill="#f65c66"/>
<rect x="520.85" y="285.48" width="5.30" height="5.30" fill="#f65c66"/>
<rect x="530.85" y="283.05" width="5.30" height="5.30" fill="#f65c66"/>
<circle cx="303.50" cy="287.84" r="3.1" fill="#14ef5a"/>
<circle cx="313.50" cy="284.48" r="3.1" fill="#14ef5a"/>
<circle cx="323.50" cy="285.69" r="3.1" fill="#14ef5a"/>
<circle cx="333.50" cy="281.40" r="3.1" fill="#14ef5a"/>
<circle cx="343.50" cy="283.55" r="3.1" fill="#14ef5a"/>
<circle cx="353.50" cy="285.77" r="3.1" fill="#14ef5a"/>
<circle cx="363.50" cy="285.27" r="3.1" fill="#14ef5a"/>
<circle cx="373.50" cy="286.77" r="3.1" fill="#14ef5a"/>
<circle cx="383.50" cy="279.62" r="3.1" fill="#14ef5a"/>
<circle cx="393.50" cy="282.83" r="3.1" fill="#14ef5a"/>
<circle cx="403.50" cy="286.05" r="3.1" fill="#14ef5a"/>
<circle cx="413.50" cy="291.13" r="3.1" fill="#14ef5a"/>
<circle cx="423.50" cy="286.41" r="3.1" fill="#14ef5a"/>
<circle cx="433.50" cy="288.91" r="3.1" fill="#14ef5a"/>
<circle cx="443.50" cy="279.62" r="3.1" fill="#14ef5a"/>
<circle cx="453.50" cy="288.20" r="3.1" fill="#14ef5a"/>
<circle cx="463.50" cy="290.34" r="3.1" fill="#14ef5a"/>
<circle cx="473.50" cy="289.27" r="3.1" fill="#14ef5a"/>
<circle cx="483.50" cy="287.84" r="3.1" fill="#14ef5a"/>
<circle cx="493.50" cy="289.48" r="3.1" fill="#14ef5a"/>
<circle cx="503.50" cy="284.98" r="3.1" fill="#14ef5a"/>
<circle cx="513.50" cy="290.99" r="3.1" fill="#14ef5a"/>
<circle cx="523.50" cy="287.48" r="3.1" fill="#14ef5a"/>
<circle cx="533.50" cy="285.69" r="3.1" fill="#14ef5a"/>
<path d="M303.50 281.48L306.90 287.48L300.10 287.48Z" fill="#12b0f2"/>
<path d="M313.50 281.98L316.90 287.98L310.10 287.98Z" fill="#12b0f2"/>
<path d="M323.50 280.98L326.90 286.98L320.10 286.98Z" fill="#12b0f2"/>
<path d="M333.50 277.48L336.90 283.48L330.10 283.48Z" fill="#12b0f2"/>
<path d="M343.50 278.05L346.90 284.05L340.10 284.05Z" fill="#12b0f2"/>
<path d="M353.50 281.26L356.90 287.26L350.10 287.26Z" fill="#12b0f2"/>
<path d="M363.50 281.26L366.90 287.26L360.10 287.26Z" fill="#12b0f2"/>
<path d="M373.50 281.98L376.90 287.98L370.10 287.98Z" fill="#12b0f2"/>
<path d="M383.50 275.19L386.90 281.19L380.10 281.19Z" fill="#12b0f2"/>
<path d="M393.50 278.33L396.90 284.33L390.10 284.33Z" fill="#12b0f2"/>
<path d="M403.50 283.41L406.90 289.41L400.10 289.41Z" fill="#12b0f2"/>
<path d="M413.50 286.48L416.90 292.48L410.10 292.48Z" fill="#12b0f2"/>
<path d="M423.50 281.62L426.90 287.62L420.10 287.62Z" fill="#12b0f2"/>
<path d="M433.50 284.84L436.90 290.84L430.10 290.84Z" fill="#12b0f2"/>
<path d="M443.50 278.48L446.90 284.48L440.10 284.48Z" fill="#12b0f2"/>
<path d="M453.50 283.77L456.90 289.77L450.10 289.77Z" fill="#12b0f2"/>
<path d="M463.50 289.63L466.90 295.63L460.10 295.63Z" fill="#12b0f2"/>
<path d="M473.50 285.98L476.90 291.98L470.10 291.98Z" fill="#12b0f2"/>
<path d="M483.50 282.91L486.90 288.91L480.10 288.91Z" fill="#12b0f2"/>
<path d="M493.50 281.77L496.90 287.77L490.10 287.77Z" fill="#12b0f2"/>
<path d="M503.50 282.41L506.90 288.41L500.10 288.41Z" fill="#12b0f2"/>
<path d="M513.50 285.98L516.90 291.98L510.10 291.98Z" fill="#12b0f2"/>
<path d="M523.50 280.98L526.90 286.98L520.10 286.98Z" fill="#12b0f2"/>
<path d="M533.50 281.26L536.90 287.26L530.10 287.26Z" fill="#12b0f2"/>
<path d="M299.80 279.63L307.20 279.63L303.50 286.03Z" fill="#fd55fb"/>
<path d="M309.80 280.78L317.20 280.78L313.50 287.18Z" fill="#fd55fb"/>
<path d="M319.80 281.06L327.20 281.06L323.50 287.46Z" fill="#fd55fb"/>
<path d="M329.80 278.20L337.20 278.20L333.50 284.60Z" fill="#fd55fb"/>
<path d="M339.80 279.78L347.20 279.78L343.50 286.18Z" fill="#fd55fb"/>
<path d="M349.80 281.06L357.20 281.06L353.50 287.46Z" fill="#fd55fb"/>
<path d="M359.80 281.42L367.20 281.42L363.50 287.82Z" fill="#fd55fb"/>
<path d="M369.80 280.92L377.20 280.92L373.50 287.32Z" fill="#fd55fb"/>
<path d="M379.80 277.63L387.20 277.63L383.50 284.03Z" fill="#fd55fb"/>
<path d="M389.80 280.35L397.20 280.35L393.50 286.75Z" fill="#fd55fb"/>
<path d="M399.80 284.28L407.20 284.28L403.50 290.68Z" fill="#fd55fb"/>
<path d="M409.80 285.36L417.20 285.36L413.50 291.75Z" fill="#fd55fb"/>
<path d="M419.80 286.21L427.20 286.21L423.50 292.61Z" fill="#fd55fb"/>
<path d="M429.80 283.50L437.20 283.50L433.50 289.90Z" fill="#fd55fb"/>
<path d="M439.80 280.78L447.20 280.78L443.50 287.18Z" fill="#fd55fb"/>
<path d="M449.80 282.07L457.20 282.07L453.50 288.47Z" fill="#fd55fb"/>
<path d="M459.80 291.07L467.20 291.07L463.50 297.47Z" fill="#fd55fb"/>
<path d="M469.80 287.57L477.20 287.57L473.50 293.97Z" fill="#fd55fb"/>
<path d="M479.80 283.50L487.20 283.50L483.50 289.90Z" fill="#fd55fb"/>
<path d="M489.80 287.00L497.20 287.00L493.50 293.40Z" fill="#fd55fb"/>
<path d="M499.80 281.49L507.20 281.49L503.50 287.89Z" fill="#fd55fb"/>
<path d="M509.80 288.72L517.20 288.72L513.50 295.12Z" fill="#fd55fb"/>
<path d="M519.80 281.92L527.20 281.92L523.50 288.32Z" fill="#fd55fb"/>
<path d="M529.80 284.78L537.20 284.78L533.50 291.18Z" fill="#fd55fb"/>
<path d="M54.88 330.40V401.30M66.81 330.40V401.30M78.74 330.40V401.30M90.67 330.40V401.30M102.60 330.40V401.30M114.54 330.40V401.30M126.47 330.40V401.30M138.40 330.40V401.30M150.33 330.40V401.30M162.26 330.40V401.30M174.19 330.40V401.30M186.12 330.40V401.30M198.05 330.40V401.30M209.98 330.40V401.30M221.91 330.40V401.30M233.85 330.40V401.30M245.78 330.40V401.30M257.71 330.40V401.30M269.64 330.40V401.30M281.57 330.40V401.30M42.95 337.49H293.50M42.95 344.58H293.50M42.95 351.67H293.50M42.95 358.76H293.50M42.95 365.85H293.50M42.95 372.94H293.50M42.95 380.03H293.50M42.95 387.12H293.50M42.95 394.21H293.50" stroke="#e6e6e6" stroke-width="0.9" stroke-dasharray="1.5 1.5" fill="none"/>
<path d="M54.88 330.40v1.3M54.88 401.30v-1.3M66.81 330.40v1.3M66.81 401.30v-1.3M78.74 330.40v1.3M78.74 401.30v-1.3M90.67 330.40v1.3M90.67 401.30v-1.3M102.60 330.40v1.3M102.60 401.30v-1.3M114.54 330.40v1.3M114.54 401.30v-1.3M126.47 330.40v1.3M126.47 401.30v-1.3M138.40 330.40v1.3M138.40 401.30v-1.3M150.33 330.40v1.3M150.33 401.30v-1.3M162.26 330.40v1.3M162.26 401.30v-1.3M174.19 330.40v1.3M174.19 401.30v-1.3M186.12 330.40v1.3M186.12 401.30v-1.3M198.05 330.40v1.3M198.05 401.30v-1.3M209.98 330.40v1.3M209.98 401.30v-1.3M221.91 330.40v1.3M221.91 401.30v-1.3M233.85 330.40v1.3M233.85 401.30v-1.3M245.78 330.40v1.3M245.78 401.30v-1.3M257.71 330.40v1.3M257.71 401.30v-1.3M269.64 330.40v1.3M269.64 401.30v-1.3M281.57 330.40v1.3M281.57 401.30v-1.3M42.95 337.49h1.3M293.50 337.49h-1.3M42.95 344.58h1.3M293.50 344.58h-1.3M42.95 351.67h1.3M293.50 351.67h-1.3M42.95 358.76h1.3M293.50 358.76h-1.3M42.95 365.85h1.3M293.50 365.85h-1.3M42.95 372.94h1.3M293.50 372.94h-1.3M42.95 380.03h1.3M293.50 380.03h-1.3M42.95 387.12h1.3M293.50 387.12h-1.3M42.95 394.21h1.3M293.50 394.21h-1.3" stroke="#5a5a5a" stroke-width="1" fill="none"/>
<rect x="42.95" y="330.40" width="250.55" height="70.90" fill="none" stroke="#5a5a5a" stroke-width="1"/>
<text x="54.05" y="344.70" font-size="11.6">GLONASS</text>
<text transform="translate(51.48 404.30) rotate(90)" font-size="11.7">R01</text>
<text transform="translate(75.34 404.30) rotate(90)" font-size="11.7">R03</text>
<text transform="translate(99.20 404.30) rotate(90)" font-size="11.7">R05</text>
<text transform="translate(123.07 404.30) rotate(90)" font-size="11.7">R08</text>
<text transform="translate(146.93 404.30) rotate(90)" font-size="11.7">R11</text>
<text transform="translate(170.79 404.30) rotate(90)" font-size="11.7">R13</text>
<text transform="translate(194.65 404.30) rotate(90)" font-size="11.7">R15</text>
<text transform="translate(218.51 404.30) rotate(90)" font-size="11.7">R18</text>
<text transform="translate(242.38 404.30) rotate(90)" font-size="11.7">R20</text>
<text transform="translate(266.24 404.30) rotate(90)" font-size="11.7">R22</text>
<text transform="translate(41 404.60) scale(0.93 1)" font-size="11.5" text-anchor="end">0.0</text>
<text transform="translate(41 390.42) scale(0.93 1)" font-size="11.5" text-anchor="end">0.1</text>
<text transform="translate(41 376.24) scale(0.93 1)" font-size="11.5" text-anchor="end">0.2</text>
<text transform="translate(41 362.06) scale(0.93 1)" font-size="11.5" text-anchor="end">0.3</text>
<text transform="translate(41 347.88) scale(0.93 1)" font-size="11.5" text-anchor="end">0.4</text>
<text transform="translate(41 333.70) scale(0.93 1)" font-size="11.5" text-anchor="end">0.5</text>
<rect x="52.23" y="379.85" width="5.30" height="5.30" fill="#f65c66"/>
<rect x="64.16" y="392.41" width="5.30" height="5.30" fill="#f65c66"/>
<rect x="76.09" y="391.42" width="5.30" height="5.30" fill="#f65c66"/>
<rect x="88.02" y="388.72" width="5.30" height="5.30" fill="#f65c66"/>
<rect x="99.95" y="389.86" width="5.30" height="5.30" fill="#f65c66"/>
<rect x="111.89" y="385.89" width="5.30" height="5.30" fill="#f65c66"/>
<rect x="123.82" y="387.31" width="5.30" height="5.30" fill="#f65c66"/>
<rect x="135.75" y="386.17" width="5.30" height="5.30" fill="#f65c66"/>
<rect x="147.68" y="388.30" width="5.30" height="5.30" fill="#f65c66"/>
<rect x="159.61" y="389.43" width="5.30" height="5.30" fill="#f65c66"/>
<rect x="171.54" y="367.45" width="5.30" height="5.30" fill="#f65c66"/>
<rect x="183.47" y="390.14" width="5.30" height="5.30" fill="#f65c66"/>
<rect x="195.40" y="389.29" width="5.30" height="5.30" fill="#f65c66"/>
<rect x="207.33" y="388.30" width="5.30" height="5.30" fill="#f65c66"/>
<rect x="219.26" y="391.70" width="5.30" height="5.30" fill="#f65c66"/>
<rect x="231.20" y="348.31" width="5.30" height="5.30" fill="#f65c66"/>
<rect x="243.13" y="363.91" width="5.30" height="5.30" fill="#f65c66"/>
<rect x="255.06" y="389.57" width="5.30" height="5.30" fill="#f65c66"/>
<rect x="266.99" y="346.89" width="5.30" height="5.30" fill="#f65c66"/>
<rect x="278.92" y="386.31" width="5.30" height="5.30" fill="#f65c66"/>
<circle cx="54.88" cy="382.02" r="3.1" fill="#14ef5a"/>
<circle cx="66.81" cy="395.06" r="3.1" fill="#14ef5a"/>
<circle cx="78.74" cy="394.21" r="3.1" fill="#14ef5a"/>
<circle cx="90.67" cy="391.37" r="3.1" fill="#14ef5a"/>
<circle cx="102.60" cy="392.51" r="3.1" fill="#14ef5a"/>
<circle cx="114.54" cy="388.96" r="3.1" fill="#14ef5a"/>
<circle cx="126.47" cy="389.96" r="3.1" fill="#14ef5a"/>
<circle cx="138.40" cy="389.25" r="3.1" fill="#14ef5a"/>
<circle cx="150.33" cy="391.37" r="3.1" fill="#14ef5a"/>
<circle cx="162.26" cy="392.08" r="3.1" fill="#14ef5a"/>
<circle cx="174.19" cy="370.67" r="3.1" fill="#14ef5a"/>
<circle cx="186.12" cy="392.79" r="3.1" fill="#14ef5a"/>
<circle cx="198.05" cy="391.94" r="3.1" fill="#14ef5a"/>
<circle cx="209.98" cy="391.66" r="3.1" fill="#14ef5a"/>
<circle cx="221.91" cy="394.78" r="3.1" fill="#14ef5a"/>
<circle cx="233.85" cy="350.96" r="3.1" fill="#14ef5a"/>
<circle cx="245.78" cy="366.56" r="3.1" fill="#14ef5a"/>
<circle cx="257.71" cy="392.51" r="3.1" fill="#14ef5a"/>
<circle cx="269.64" cy="349.54" r="3.1" fill="#14ef5a"/>
<circle cx="281.57" cy="388.96" r="3.1" fill="#14ef5a"/>
<path d="M54.88 379.50L58.28 385.50L51.48 385.50Z" fill="#12b0f2"/>
<path d="M66.81 392.77L70.21 398.77L63.41 398.77Z" fill="#12b0f2"/>
<path d="M78.74 391.92L82.14 397.92L75.34 397.92Z" fill="#12b0f2"/>
<path d="M90.67 387.38L94.07 393.38L87.27 393.38Z" fill="#12b0f2"/>
<path d="M102.60 388.66L106.00 394.66L99.20 394.66Z" fill="#12b0f2"/>
<path d="M114.54 384.90L117.94 390.90L111.14 390.90Z" fill="#12b0f2"/>
<path d="M126.47 386.53L129.87 392.53L123.07 392.53Z" fill="#12b0f2"/>
<path d="M138.40 384.97L141.80 390.97L135.00 390.97Z" fill="#12b0f2"/>
<path d="M150.33 387.67L153.73 393.67L146.93 393.67Z" fill="#12b0f2"/>
<path d="M162.26 388.52L165.66 394.52L158.86 394.52Z" fill="#12b0f2"/>
<path d="M174.19 365.97L177.59 371.97L170.79 371.97Z" fill="#12b0f2"/>
<path d="M186.12 390.08L189.52 396.08L182.72 396.08Z" fill="#12b0f2"/>
<path d="M198.05 389.79L201.45 395.79L194.65 395.79Z" fill="#12b0f2"/>
<path d="M209.98 389.08L213.38 395.08L206.58 395.08Z" fill="#12b0f2"/>
<path d="M221.91 392.20L225.31 398.20L218.51 398.20Z" fill="#12b0f2"/>
<path d="M233.85 348.67L237.25 354.67L230.45 354.67Z" fill="#12b0f2"/>
<path d="M245.78 363.98L249.18 369.98L242.38 369.98Z" fill="#12b0f2"/>
<path d="M257.71 390.08L261.11 396.08L254.31 396.08Z" fill="#12b0f2"/>
<path d="M269.64 345.12L273.04 351.12L266.24 351.12Z" fill="#12b0f2"/>
<path d="M281.57 387.52L284.97 393.52L278.17 393.52Z" fill="#12b0f2"/>
<path d="M51.18 380.70L58.58 380.70L54.88 387.10Z" fill="#fd55fb"/>
<path d="M63.11 393.28L70.51 393.28L66.81 399.68Z" fill="#fd55fb"/>
<path d="M75.04 392.29L82.44 392.29L78.74 398.69Z" fill="#fd55fb"/>
<path d="M86.97 388.17L94.37 388.17L90.67 394.57Z" fill="#fd55fb"/>
<path d="M98.90 389.73L106.30 389.73L102.60 396.13Z" fill="#fd55fb"/>
<path d="M110.84 386.05L118.24 386.05L114.54 392.45Z" fill="#fd55fb"/>
<path d="M122.77 387.39L130.17 387.39L126.47 393.79Z" fill="#fd55fb"/>
<path d="M134.70 386.47L142.10 386.47L138.40 392.87Z" fill="#fd55fb"/>
<path d="M146.63 389.17L154.03 389.17L150.33 395.57Z" fill="#fd55fb"/>
<path d="M158.56 389.45L165.96 389.45L162.26 395.85Z" fill="#fd55fb"/>
<path d="M170.49 367.75L177.89 367.75L174.19 374.15Z" fill="#fd55fb"/>
<path d="M182.42 390.16L189.82 390.16L186.12 396.56Z" fill="#fd55fb"/>
<path d="M194.35 390.44L201.75 390.44L198.05 396.84Z" fill="#fd55fb"/>
<path d="M206.28 391.53L213.68 391.53L209.98 397.93Z" fill="#fd55fb"/>
<path d="M218.21 392.57L225.61 392.57L221.91 398.97Z" fill="#fd55fb"/>
<path d="M230.15 349.60L237.55 349.60L233.85 356.00Z" fill="#fd55fb"/>
<path d="M242.08 364.35L249.48 364.35L245.78 370.75Z" fill="#fd55fb"/>
<path d="M254.01 391.01L261.41 391.01L257.71 397.41Z" fill="#fd55fb"/>
<path d="M265.94 347.48L273.34 347.48L269.64 353.88Z" fill="#fd55fb"/>
<path d="M277.87 387.39L285.27 387.39L281.57 393.79Z" fill="#fd55fb"/>
<path d="M305.40 330.40V401.30M317.31 330.40V401.30M329.21 330.40V401.30M341.12 330.40V401.30M353.02 330.40V401.30M364.93 330.40V401.30M376.83 330.40V401.30M388.74 330.40V401.30M400.64 330.40V401.30M412.55 330.40V401.30M424.45 330.40V401.30M436.36 330.40V401.30M448.26 330.40V401.30M460.17 330.40V401.30M472.07 330.40V401.30M483.98 330.40V401.30M495.88 330.40V401.30M507.79 330.40V401.30M519.69 330.40V401.30M531.60 330.40V401.30M293.50 337.49H543.50M293.50 344.58H543.50M293.50 351.67H543.50M293.50 358.76H543.50M293.50 365.85H543.50M293.50 372.94H543.50M293.50 380.03H543.50M293.50 387.12H543.50M293.50 394.21H543.50" stroke="#e6e6e6" stroke-width="0.9" stroke-dasharray="1.5 1.5" fill="none"/>
<path d="M305.40 330.40v1.3M305.40 401.30v-1.3M317.31 330.40v1.3M317.31 401.30v-1.3M329.21 330.40v1.3M329.21 401.30v-1.3M341.12 330.40v1.3M341.12 401.30v-1.3M353.02 330.40v1.3M353.02 401.30v-1.3M364.93 330.40v1.3M364.93 401.30v-1.3M376.83 330.40v1.3M376.83 401.30v-1.3M388.74 330.40v1.3M388.74 401.30v-1.3M400.64 330.40v1.3M400.64 401.30v-1.3M412.55 330.40v1.3M412.55 401.30v-1.3M424.45 330.40v1.3M424.45 401.30v-1.3M436.36 330.40v1.3M436.36 401.30v-1.3M448.26 330.40v1.3M448.26 401.30v-1.3M460.17 330.40v1.3M460.17 401.30v-1.3M472.07 330.40v1.3M472.07 401.30v-1.3M483.98 330.40v1.3M483.98 401.30v-1.3M495.88 330.40v1.3M495.88 401.30v-1.3M507.79 330.40v1.3M507.79 401.30v-1.3M519.69 330.40v1.3M519.69 401.30v-1.3M531.60 330.40v1.3M531.60 401.30v-1.3M293.50 337.49h1.3M543.50 337.49h-1.3M293.50 344.58h1.3M543.50 344.58h-1.3M293.50 351.67h1.3M543.50 351.67h-1.3M293.50 358.76h1.3M543.50 358.76h-1.3M293.50 365.85h1.3M543.50 365.85h-1.3M293.50 372.94h1.3M543.50 372.94h-1.3M293.50 380.03h1.3M543.50 380.03h-1.3M293.50 387.12h1.3M543.50 387.12h-1.3M293.50 394.21h1.3M543.50 394.21h-1.3" stroke="#5a5a5a" stroke-width="1" fill="none"/>
<rect x="293.50" y="330.40" width="250.00" height="70.90" fill="none" stroke="#5a5a5a" stroke-width="1"/>
<text x="305.10" y="344.70" font-size="11.6">GLONASS</text>
<text transform="translate(313.91 404.30) rotate(90)" font-size="11.7">R02</text>
<text transform="translate(337.72 404.30) rotate(90)" font-size="11.7">R04</text>
<text transform="translate(361.53 404.30) rotate(90)" font-size="11.7">R07</text>
<text transform="translate(385.34 404.30) rotate(90)" font-size="11.7">R09</text>
<text transform="translate(409.15 404.30) rotate(90)" font-size="11.7">R12</text>
<text transform="translate(432.96 404.30) rotate(90)" font-size="11.7">R14</text>
<text transform="translate(456.77 404.30) rotate(90)" font-size="11.7">R17</text>
<text transform="translate(480.58 404.30) rotate(90)" font-size="11.7">R19</text>
<text transform="translate(504.39 404.30) rotate(90)" font-size="11.7">R21</text>
<text transform="translate(528.20 404.30) rotate(90)" font-size="11.7">R24</text>
<rect x="302.75" y="379.79" width="5.30" height="5.30" fill="#f65c66"/>
<rect x="314.66" y="392.13" width="5.30" height="5.30" fill="#f65c66"/>
<rect x="326.56" y="391.56" width="5.30" height="5.30" fill="#f65c66"/>
<rect x="338.47" y="390.43" width="5.30" height="5.30" fill="#f65c66"/>
<rect x="350.37" y="391.42" width="5.30" height="5.30" fill="#f65c66"/>
<rect x="362.28" y="385.75" width="5.30" height="5.30" fill="#f65c66"/>
<rect x="374.18" y="388.02" width="5.30" height="5.30" fill="#f65c66"/>
<rect x="386.09" y="387.31" width="5.30" height="5.30" fill="#f65c66"/>
<rect x="397.99" y="389.43" width="5.30" height="5.30" fill="#f65c66"/>
<rect x="409.90" y="389.43" width="5.30" height="5.30" fill="#f65c66"/>
<rect x="421.80" y="367.88" width="5.30" height="5.30" fill="#f65c66"/>
<rect x="433.71" y="390.14" width="5.30" height="5.30" fill="#f65c66"/>
<rect x="445.61" y="389.43" width="5.30" height="5.30" fill="#f65c66"/>
<rect x="457.52" y="387.94" width="5.30" height="5.30" fill="#f65c66"/>
<rect x="469.42" y="391.56" width="5.30" height="5.30" fill="#f65c66"/>
<rect x="481.33" y="347.32" width="5.30" height="5.30" fill="#f65c66"/>
<rect x="493.23" y="363.20" width="5.30" height="5.30" fill="#f65c66"/>
<rect x="505.14" y="389.57" width="5.30" height="5.30" fill="#f65c66"/>
<rect x="517.04" y="346.18" width="5.30" height="5.30" fill="#f65c66"/>
<rect x="528.95" y="385.75" width="5.30" height="5.30" fill="#f65c66"/>
<circle cx="305.40" cy="382.44" r="3.1" fill="#14ef5a"/>
<circle cx="317.31" cy="394.92" r="3.1" fill="#14ef5a"/>
<circle cx="329.21" cy="394.64" r="3.1" fill="#14ef5a"/>
<circle cx="341.12" cy="391.94" r="3.1" fill="#14ef5a"/>
<circle cx="353.02" cy="393.50" r="3.1" fill="#14ef5a"/>
<circle cx="364.93" cy="389.11" r="3.1" fill="#14ef5a"/>
<circle cx="376.83" cy="391.23" r="3.1" fill="#14ef5a"/>
<circle cx="388.74" cy="389.53" r="3.1" fill="#14ef5a"/>
<circle cx="400.64" cy="392.65" r="3.1" fill="#14ef5a"/>
<circle cx="412.55" cy="392.51" r="3.1" fill="#14ef5a"/>
<circle cx="424.45" cy="370.95" r="3.1" fill="#14ef5a"/>
<circle cx="436.36" cy="393.08" r="3.1" fill="#14ef5a"/>
<circle cx="448.26" cy="392.08" r="3.1" fill="#14ef5a"/>
<circle cx="460.17" cy="391.37" r="3.1" fill="#14ef5a"/>
<circle cx="472.07" cy="394.64" r="3.1" fill="#14ef5a"/>
<circle cx="483.98" cy="349.54" r="3.1" fill="#14ef5a"/>
<circle cx="495.88" cy="365.99" r="3.1" fill="#14ef5a"/>
<circle cx="507.79" cy="392.22" r="3.1" fill="#14ef5a"/>
<circle cx="519.69" cy="348.69" r="3.1" fill="#14ef5a"/>
<circle cx="531.60" cy="388.54" r="3.1" fill="#14ef5a"/>
<path d="M305.40 379.44L308.80 385.44L302.00 385.44Z" fill="#12b0f2"/>
<path d="M317.31 392.34L320.71 398.34L313.91 398.34Z" fill="#12b0f2"/>
<path d="M329.21 392.06L332.61 398.06L325.81 398.06Z" fill="#12b0f2"/>
<path d="M341.12 385.96L344.52 391.96L337.72 391.96Z" fill="#12b0f2"/>
<path d="M353.02 386.67L356.42 392.67L349.62 392.67Z" fill="#12b0f2"/>
<path d="M364.93 382.99L368.33 388.99L361.53 388.99Z" fill="#12b0f2"/>
<path d="M376.83 386.25L380.23 392.25L373.43 392.25Z" fill="#12b0f2"/>
<path d="M388.74 385.11L392.14 391.11L385.34 391.11Z" fill="#12b0f2"/>
<path d="M400.64 387.95L404.04 393.95L397.24 393.95Z" fill="#12b0f2"/>
<path d="M412.55 387.95L415.95 393.95L409.15 393.95Z" fill="#12b0f2"/>
<path d="M424.45 367.10L427.85 373.10L421.05 373.10Z" fill="#12b0f2"/>
<path d="M436.36 389.51L439.76 395.51L432.96 395.51Z" fill="#12b0f2"/>
<path d="M448.26 388.52L451.66 394.52L444.86 394.52Z" fill="#12b0f2"/>
<path d="M460.17 388.37L463.57 394.37L456.77 394.37Z" fill="#12b0f2"/>
<path d="M472.07 391.21L475.47 397.21L468.67 397.21Z" fill="#12b0f2"/>
<path d="M483.98 343.99L487.38 349.99L480.58 349.99Z" fill="#12b0f2"/>
<path d="M495.88 361.01L499.28 367.01L492.48 367.01Z" fill="#12b0f2"/>
<path d="M507.79 388.94L511.19 394.94L504.39 394.94Z" fill="#12b0f2"/>
<path d="M519.69 344.27L523.09 350.27L516.29 350.27Z" fill="#12b0f2"/>
<path d="M531.60 387.52L535.00 393.52L528.20 393.52Z" fill="#12b0f2"/>
<path d="M301.70 378.96L309.10 378.96L305.40 385.36Z" fill="#fd55fb"/>
<path d="M313.61 391.29L321.01 391.29L317.31 397.69Z" fill="#fd55fb"/>
<path d="M325.51 392.14L332.91 392.14L329.21 398.54Z" fill="#fd55fb"/>
<path d="M337.42 385.69L344.82 385.69L341.12 392.09Z" fill="#fd55fb"/>
<path d="M349.32 385.05L356.72 385.05L353.02 391.45Z" fill="#fd55fb"/>
<path d="M361.23 380.52L368.63 380.52L364.93 386.92Z" fill="#fd55fb"/>
<path d="M373.13 385.05L380.53 385.05L376.83 391.45Z" fill="#fd55fb"/>
<path d="M385.04 357.97L392.44 357.97L388.74 364.37Z" fill="#fd55fb"/>
<path d="M396.94 385.69L404.34 385.69L400.64 392.09Z" fill="#fd55fb"/>
<path d="M408.85 384.06L416.25 384.06L412.55 390.46Z" fill="#fd55fb"/>
<path d="M420.75 362.79L428.15 362.79L424.45 369.19Z" fill="#fd55fb"/>
<path d="M432.66 388.74L440.06 388.74L436.36 395.14Z" fill="#fd55fb"/>
<path d="M444.56 388.60L451.96 388.60L448.26 395.00Z" fill="#fd55fb"/>
<path d="M456.47 388.39L463.87 388.39L460.17 394.79Z" fill="#fd55fb"/>
<path d="M468.37 389.88L475.77 389.88L472.07 396.28Z" fill="#fd55fb"/>
<path d="M480.28 338.83L487.68 338.83L483.98 345.23Z" fill="#fd55fb"/>
<path d="M492.18 355.42L499.58 355.42L495.88 361.82Z" fill="#fd55fb"/>
<path d="M504.09 388.74L511.49 388.74L507.79 395.14Z" fill="#fd55fb"/>
<path d="M515.99 339.54L523.39 339.54L519.69 345.94Z" fill="#fd55fb"/>
<path d="M527.90 386.61L535.30 386.61L531.60 393.01Z" fill="#fd55fb"/>
<text x="164" y="30.2" font-size="12.6" text-anchor="middle">All observations</text>
<text x="421.2" y="30.2" font-size="12.6" text-anchor="middle">Partial observations</text>
<text transform="translate(14.2 218.7) rotate(-90)" font-size="12.7" text-anchor="middle">Clock offset STD ( ns )</text>
<rect x="204.65" y="6.35" width="5.30" height="5.30" fill="#f65c66"/>
<text x="224.60" y="13.6" font-size="12.6">50</text>
<circle cx="252.60" cy="9.00" r="3.1" fill="#14ef5a"/>
<text x="269.90" y="13.6" font-size="12.6">60</text>
<path d="M298.10 5.00L301.50 11.00L294.70 11.00Z" fill="#12b0f2"/>
<text x="315.40" y="13.6" font-size="12.6">70</text>
<path d="M339.80 6.70L347.20 6.70L343.50 13.10Z" fill="#fd55fb"/>
<text x="360.80" y="13.6" font-size="12.6">80</text>
</svg></body></html>
